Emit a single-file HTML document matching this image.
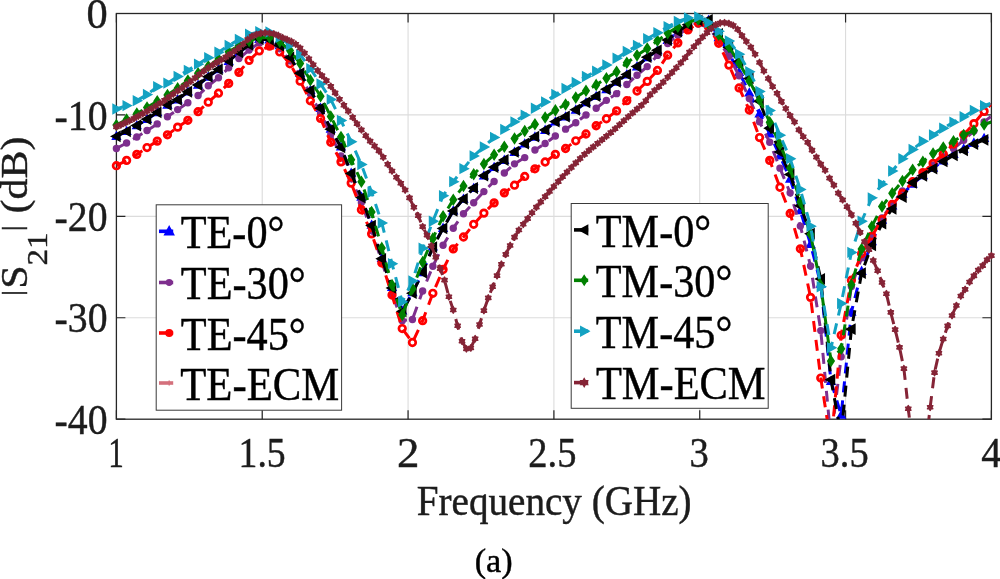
<!DOCTYPE html>
<html><head><meta charset="utf-8"><title>S21 plot</title><style>html,body{margin:0;padding:0;background:#fff;width:1000px;height:579px;overflow:hidden}svg{display:block}</style></head><body>
<svg width="1000" height="579" viewBox="0 0 1000 579" font-family="'Liberation Serif', 'Times New Roman', serif">
<rect width="1000" height="579" fill="#fff"/>
<defs><clipPath id="ax"><rect x="116.4" y="13.5" width="875.0" height="405.7"/></clipPath></defs>
<path d="M262.23 13.5V419.2M408.07 13.5V419.2M553.9 13.5V419.2M699.73 13.5V419.2M845.57 13.5V419.2M116.4 114.92H991.4M116.4 216.35H991.4M116.4 317.77H991.4" stroke="#262626" stroke-opacity="0.16" stroke-width="1.1" fill="none"/>
<path d="M116.4 419.2v-9M116.4 13.5v9M262.23 419.2v-9M262.23 13.5v9M408.07 419.2v-9M408.07 13.5v9M553.9 419.2v-9M553.9 13.5v9M699.73 419.2v-9M699.73 13.5v9M845.57 419.2v-9M845.57 13.5v9M991.4 419.2v-9M991.4 13.5v9M116.4 13.5h9M991.4 13.5h-9M116.4 114.92h9M991.4 114.92h-9M116.4 216.35h9M991.4 216.35h-9M116.4 317.77h9M991.4 317.77h-9M116.4 419.2h9M991.4 419.2h-9" stroke="#262626" stroke-width="1.2" fill="none"/>
<rect x="116.4" y="13.5" width="875.0" height="405.7" fill="none" stroke="#262626" stroke-width="1.3"/>
<path d="M116.4 136.35 L126.61 131.33 L136.82 125.6 L147.02 119.32 L157.23 112.58 L167.44 105.1 L177.65 99.77 L187.86 91.9 L198.07 85.04 L208.27 76.97 L218.48 69.53 L228.69 61.32 L238.9 52.54 L249.11 45.03 L259.32 39.24 L269.52 39.68 L279.73 45.47 L289.94 57.36 L300.15 73.21 L310.36 90.42 L320.57 108.18 L330.77 129 L340.98 146.9 L351.19 173.09 L361.4 197.07 L371.61 225.05 L381.82 258.18 L392.02 287.39 L402.23 310.89 L412.44 292.51 L422.65 272.47 L432.86 246.89 L443.07 228.21 L453.27 210.92 L463.48 199.1 L473.69 188.31 L483.9 175.9 L494.11 167.33 L504.32 160.19 L514.52 152.24 L524.73 143.88 L534.94 136.97 L545.15 130.19 L555.36 121.88 L565.57 116.8 L575.77 110.02 L585.98 102.65 L596.19 96.42 L606.4 89.62 L616.61 82.05 L626.82 74.71 L637.02 66.77 L647.23 57.47 L657.44 50.62 L667.65 40.36 L677.86 31.93 L688.07 25.07 L698.27 20.73 L708.48 20.3 L718.69 37.43 L728.9 53.52 L739.11 72.25 L749.32 92.89 L759.52 113.85 L769.73 133.84 L779.94 155.89 L790.15 178.96 L800.36 210.65 L810.57 244.23 L820.77 284.16 L830.98 381.39 L841.19 415.1 L851.4 312.12 L861.61 271.26 L871.82 241.5 L882.02 220.03 L892.23 205.7 L902.44 194.11 L912.65 184.05 L922.86 175.49 L933.07 168.01 L943.27 160.83 L953.48 154.29 L963.69 148.99 L973.9 143.02 L984.11 138.35 L991.4 135.83" fill="none" stroke="#0000ff" stroke-width="3.0" stroke-dasharray="11 8" clip-path="url(#ax)"/>
<g fill="#0000ff" stroke="#0000ff" stroke-width="1.5"><polygon points="116.4,132.25 120.3,139.3 112.51,139.3"/><polygon points="126.61,127.23 130.5,134.29 122.71,134.29"/><polygon points="136.82,121.5 140.71,128.55 132.92,128.55"/><polygon points="147.02,115.22 150.92,122.27 143.13,122.27"/><polygon points="157.23,108.48 161.13,115.54 153.34,115.54"/><polygon points="167.44,101 171.34,108.05 163.55,108.05"/><polygon points="177.65,95.67 181.54,102.72 173.75,102.72"/><polygon points="187.86,87.8 191.75,94.86 183.96,94.86"/><polygon points="198.07,80.94 201.96,87.99 194.17,87.99"/><polygon points="208.27,72.87 212.17,79.92 204.38,79.92"/><polygon points="218.48,65.43 222.38,72.48 214.59,72.48"/><polygon points="228.69,57.22 232.59,64.27 224.8,64.27"/><polygon points="238.9,48.44 242.79,55.49 235,55.49"/><polygon points="249.11,40.93 253,47.98 245.21,47.98"/><polygon points="259.32,35.14 263.21,42.19 255.42,42.19"/><polygon points="269.52,35.58 273.42,42.63 265.63,42.63"/><polygon points="279.73,41.37 283.63,48.42 275.84,48.42"/><polygon points="289.94,53.26 293.84,60.31 286.05,60.31"/><polygon points="300.15,69.11 304.04,76.17 296.25,76.17"/><polygon points="310.36,86.32 314.25,93.37 306.46,93.37"/><polygon points="320.57,104.08 324.46,111.14 316.67,111.14"/><polygon points="330.77,124.9 334.67,131.95 326.88,131.95"/><polygon points="340.98,142.8 344.88,149.86 337.09,149.86"/><polygon points="351.19,168.99 355.09,176.04 347.3,176.04"/><polygon points="361.4,192.97 365.29,200.02 357.5,200.02"/><polygon points="371.61,220.95 375.5,228 367.71,228"/><polygon points="381.82,254.08 385.71,261.13 377.92,261.13"/><polygon points="392.02,283.29 395.92,290.34 388.13,290.34"/><polygon points="402.23,306.79 406.13,313.84 398.34,313.84"/><polygon points="412.44,288.41 416.34,295.46 408.55,295.46"/><polygon points="422.65,268.37 426.54,275.42 418.75,275.42"/><polygon points="432.86,242.79 436.75,249.84 428.96,249.84"/><polygon points="443.07,224.11 446.96,231.16 439.17,231.16"/><polygon points="453.27,206.82 457.17,213.87 449.38,213.87"/><polygon points="463.48,195 467.38,202.05 459.59,202.05"/><polygon points="473.69,184.21 477.59,191.26 469.8,191.26"/><polygon points="483.9,171.8 487.79,178.85 480,178.85"/><polygon points="494.11,163.23 498,170.29 490.21,170.29"/><polygon points="504.32,156.09 508.21,163.14 500.42,163.14"/><polygon points="514.52,148.14 518.42,155.19 510.63,155.19"/><polygon points="524.73,139.78 528.63,146.84 520.84,146.84"/><polygon points="534.94,132.87 538.84,139.92 531.05,139.92"/><polygon points="545.15,126.09 549.04,133.14 541.25,133.14"/><polygon points="555.36,117.78 559.25,124.83 551.46,124.83"/><polygon points="565.57,112.7 569.46,119.76 561.67,119.76"/><polygon points="575.77,105.92 579.67,112.97 571.88,112.97"/><polygon points="585.98,98.55 589.88,105.6 582.09,105.6"/><polygon points="596.19,92.32 600.09,99.37 592.3,99.37"/><polygon points="606.4,85.52 610.29,92.57 602.5,92.57"/><polygon points="616.61,77.95 620.5,85 612.71,85"/><polygon points="626.82,70.61 630.71,77.67 622.92,77.67"/><polygon points="637.02,62.67 640.92,69.72 633.13,69.72"/><polygon points="647.23,53.37 651.13,60.42 643.34,60.42"/><polygon points="657.44,46.52 661.34,53.57 653.55,53.57"/><polygon points="667.65,36.26 671.54,43.32 663.75,43.32"/><polygon points="677.86,27.83 681.75,34.88 673.96,34.88"/><polygon points="688.07,20.97 691.96,28.02 684.17,28.02"/><polygon points="698.27,16.63 702.17,23.68 694.38,23.68"/><polygon points="708.48,16.2 712.38,23.25 704.59,23.25"/><polygon points="718.69,33.33 722.59,40.38 714.8,40.38"/><polygon points="728.9,49.42 732.79,56.47 725,56.47"/><polygon points="739.11,68.15 743,75.2 735.21,75.2"/><polygon points="749.32,88.79 753.21,95.85 745.42,95.85"/><polygon points="759.52,109.75 763.42,116.81 755.63,116.81"/><polygon points="769.73,129.74 773.63,136.79 765.84,136.79"/><polygon points="779.94,151.79 783.84,158.84 776.05,158.84"/><polygon points="790.15,174.86 794.04,181.91 786.25,181.91"/><polygon points="800.36,206.55 804.25,213.6 796.46,213.6"/><polygon points="810.57,240.13 814.46,247.18 806.67,247.18"/><polygon points="820.77,280.06 824.67,287.12 816.88,287.12"/><polygon points="830.98,377.29 834.88,384.34 827.09,384.34"/><polygon points="841.19,411 845.09,418.05 837.3,418.05"/><polygon points="851.4,308.02 855.29,315.08 847.5,315.08"/><polygon points="861.61,267.16 865.5,274.21 857.71,274.21"/><polygon points="871.82,237.4 875.71,244.45 867.92,244.45"/><polygon points="882.02,215.93 885.92,222.98 878.13,222.98"/><polygon points="892.23,201.6 896.13,208.65 888.34,208.65"/><polygon points="902.44,190.01 906.34,197.06 898.55,197.06"/><polygon points="912.65,179.95 916.54,187 908.75,187"/><polygon points="922.86,171.39 926.75,178.44 918.96,178.44"/><polygon points="933.07,163.91 936.96,170.96 929.17,170.96"/><polygon points="943.27,156.73 947.17,163.78 939.38,163.78"/><polygon points="953.48,150.19 957.38,157.24 949.59,157.24"/><polygon points="963.69,144.89 967.59,151.94 959.8,151.94"/><polygon points="973.9,138.92 977.79,145.97 970,145.97"/><polygon points="984.11,134.25 988,141.3 980.21,141.3"/></g>
<path d="M116.4 148.45 L126.61 142.93 L136.82 136.93 L147.02 130.56 L157.23 123.91 L167.44 116.69 L177.65 109.59 L187.86 102.82 L198.07 95.53 L208.27 85.78 L218.48 77.77 L228.69 67.85 L238.9 58.56 L249.11 50.08 L259.32 42.91 L269.52 42.54 L279.73 48.77 L289.94 60.92 L300.15 76.24 L310.36 93.64 L320.57 113.13 L330.77 134.48 L340.98 155.91 L351.19 178.68 L361.4 202.53 L371.61 230.64 L381.82 261.54 L392.02 294 L402.23 320.67 L412.44 319.45 L422.65 291.02 L432.86 266.32 L443.07 245.32 L453.27 228.18 L463.48 213.68 L473.69 202.71 L483.9 191.6 L494.11 181.45 L504.32 172.97 L514.52 163.85 L524.73 157.61 L534.94 149.94 L545.15 143.57 L555.36 135.98 L565.57 129.17 L575.77 122.72 L585.98 114.98 L596.19 108.26 L606.4 100.33 L616.61 93.64 L626.82 84.53 L637.02 75.25 L647.23 66.58 L657.44 55.41 L667.65 43.5 L677.86 35.23 L688.07 27.97 L698.27 24 L708.48 27.27 L718.69 40.96 L728.9 56.2 L739.11 75.8 L749.32 98.59 L759.52 121.81 L769.73 142.25 L779.94 168.14 L790.15 192.86 L800.36 226.12 L810.57 265.95 L820.77 330.58 L830.98 440 L841.19 356.8 L851.4 286.5 L861.61 257.87 L871.82 235.4 L882.02 217.92 L892.23 203.95 L902.44 190.98 L912.65 181.44 L922.86 173.31 L933.07 165.13 L943.27 156.78 L953.48 148.61 L963.69 140.26 L973.9 131.09 L984.11 121.91 L991.4 116.08" fill="none" stroke="#7e2f8e" stroke-width="3.0" stroke-dasharray="11 8" clip-path="url(#ax)"/>
<g fill="#7e2f8e" stroke="#7e2f8e" stroke-width="2.2"><circle cx="116.4" cy="148.45" r="2.6"/><circle cx="126.61" cy="142.93" r="2.6"/><circle cx="136.82" cy="136.93" r="2.6"/><circle cx="147.02" cy="130.56" r="2.6"/><circle cx="157.23" cy="123.91" r="2.6"/><circle cx="167.44" cy="116.69" r="2.6"/><circle cx="177.65" cy="109.59" r="2.6"/><circle cx="187.86" cy="102.82" r="2.6"/><circle cx="198.07" cy="95.53" r="2.6"/><circle cx="208.27" cy="85.78" r="2.6"/><circle cx="218.48" cy="77.77" r="2.6"/><circle cx="228.69" cy="67.85" r="2.6"/><circle cx="238.9" cy="58.56" r="2.6"/><circle cx="249.11" cy="50.08" r="2.6"/><circle cx="259.32" cy="42.91" r="2.6"/><circle cx="269.52" cy="42.54" r="2.6"/><circle cx="279.73" cy="48.77" r="2.6"/><circle cx="289.94" cy="60.92" r="2.6"/><circle cx="300.15" cy="76.24" r="2.6"/><circle cx="310.36" cy="93.64" r="2.6"/><circle cx="320.57" cy="113.13" r="2.6"/><circle cx="330.77" cy="134.48" r="2.6"/><circle cx="340.98" cy="155.91" r="2.6"/><circle cx="351.19" cy="178.68" r="2.6"/><circle cx="361.4" cy="202.53" r="2.6"/><circle cx="371.61" cy="230.64" r="2.6"/><circle cx="381.82" cy="261.54" r="2.6"/><circle cx="392.02" cy="294" r="2.6"/><circle cx="402.23" cy="320.67" r="2.6"/><circle cx="412.44" cy="319.45" r="2.6"/><circle cx="422.65" cy="291.02" r="2.6"/><circle cx="432.86" cy="266.32" r="2.6"/><circle cx="443.07" cy="245.32" r="2.6"/><circle cx="453.27" cy="228.18" r="2.6"/><circle cx="463.48" cy="213.68" r="2.6"/><circle cx="473.69" cy="202.71" r="2.6"/><circle cx="483.9" cy="191.6" r="2.6"/><circle cx="494.11" cy="181.45" r="2.6"/><circle cx="504.32" cy="172.97" r="2.6"/><circle cx="514.52" cy="163.85" r="2.6"/><circle cx="524.73" cy="157.61" r="2.6"/><circle cx="534.94" cy="149.94" r="2.6"/><circle cx="545.15" cy="143.57" r="2.6"/><circle cx="555.36" cy="135.98" r="2.6"/><circle cx="565.57" cy="129.17" r="2.6"/><circle cx="575.77" cy="122.72" r="2.6"/><circle cx="585.98" cy="114.98" r="2.6"/><circle cx="596.19" cy="108.26" r="2.6"/><circle cx="606.4" cy="100.33" r="2.6"/><circle cx="616.61" cy="93.64" r="2.6"/><circle cx="626.82" cy="84.53" r="2.6"/><circle cx="637.02" cy="75.25" r="2.6"/><circle cx="647.23" cy="66.58" r="2.6"/><circle cx="657.44" cy="55.41" r="2.6"/><circle cx="667.65" cy="43.5" r="2.6"/><circle cx="677.86" cy="35.23" r="2.6"/><circle cx="688.07" cy="27.97" r="2.6"/><circle cx="698.27" cy="24" r="2.6"/><circle cx="708.48" cy="27.27" r="2.6"/><circle cx="718.69" cy="40.96" r="2.6"/><circle cx="728.9" cy="56.2" r="2.6"/><circle cx="739.11" cy="75.8" r="2.6"/><circle cx="749.32" cy="98.59" r="2.6"/><circle cx="759.52" cy="121.81" r="2.6"/><circle cx="769.73" cy="142.25" r="2.6"/><circle cx="779.94" cy="168.14" r="2.6"/><circle cx="790.15" cy="192.86" r="2.6"/><circle cx="800.36" cy="226.12" r="2.6"/><circle cx="810.57" cy="265.95" r="2.6"/><circle cx="820.77" cy="330.58" r="2.6"/><circle cx="841.19" cy="356.8" r="2.6"/><circle cx="851.4" cy="286.5" r="2.6"/><circle cx="861.61" cy="257.87" r="2.6"/><circle cx="871.82" cy="235.4" r="2.6"/><circle cx="882.02" cy="217.92" r="2.6"/><circle cx="892.23" cy="203.95" r="2.6"/><circle cx="902.44" cy="190.98" r="2.6"/><circle cx="912.65" cy="181.44" r="2.6"/><circle cx="922.86" cy="173.31" r="2.6"/><circle cx="933.07" cy="165.13" r="2.6"/><circle cx="943.27" cy="156.78" r="2.6"/><circle cx="953.48" cy="148.61" r="2.6"/><circle cx="963.69" cy="140.26" r="2.6"/><circle cx="973.9" cy="131.09" r="2.6"/><circle cx="984.11" cy="121.91" r="2.6"/></g>
<path d="M116.4 165.7 L126.61 160.39 L136.82 154.39 L147.02 147.55 L157.23 141.11 L167.44 134.81 L177.65 127.16 L187.86 120.33 L198.07 111.68 L208.27 102.15 L218.48 93.22 L228.69 83.41 L238.9 72.34 L249.11 60.37 L259.32 50.86 L269.52 46.1 L279.73 51.94 L289.94 63.83 L300.15 81.16 L310.36 100.8 L320.57 118.45 L330.77 142.29 L340.98 161.87 L351.19 183.11 L361.4 209.74 L371.61 233.85 L381.82 262.94 L392.02 295.08 L402.23 328.57 L412.44 342.49 L422.65 320.71 L432.86 293.3 L443.07 269.48 L453.27 248.9 L463.48 236.98 L473.69 224.31 L483.9 213.1 L494.11 202.89 L504.32 192.85 L514.52 185.22 L524.73 176.45 L534.94 168.83 L545.15 161.98 L555.36 154.37 L565.57 148.49 L575.77 140.82 L585.98 133.99 L596.19 125.74 L606.4 118.73 L616.61 110.88 L626.82 100.69 L637.02 90.99 L647.23 81.37 L657.44 70.45 L667.65 55.2 L677.86 42.85 L688.07 29.84 L698.27 23 L708.48 27.02 L718.69 43.24 L728.9 65.11 L739.11 87.96 L749.32 110.04 L759.52 137.57 L769.73 160.41 L779.94 187.27 L790.15 213.46 L800.36 248.8 L810.57 297.35 L820.77 378.04 L830.98 443.99 L841.19 335.32 L851.4 280.24 L861.61 253.58 L871.82 236.12 L882.02 219.54 L892.23 204.41 L902.44 193.34 L912.65 181.75 L922.86 172.58 L933.07 163.36 L943.27 154.13 L953.48 143.98 L963.69 134.81 L973.9 123.66 L984.11 111.35 L991.4 104.09" fill="none" stroke="#ff0000" stroke-width="3.0" stroke-dasharray="11 8" clip-path="url(#ax)"/>
<g fill="none" stroke="#ff0000" stroke-width="2.7"><circle cx="116.4" cy="165.7" r="3.3"/><circle cx="126.61" cy="160.39" r="3.3"/><circle cx="136.82" cy="154.39" r="3.3"/><circle cx="147.02" cy="147.55" r="3.3"/><circle cx="157.23" cy="141.11" r="3.3"/><circle cx="167.44" cy="134.81" r="3.3"/><circle cx="177.65" cy="127.16" r="3.3"/><circle cx="187.86" cy="120.33" r="3.3"/><circle cx="198.07" cy="111.68" r="3.3"/><circle cx="208.27" cy="102.15" r="3.3"/><circle cx="218.48" cy="93.22" r="3.3"/><circle cx="228.69" cy="83.41" r="3.3"/><circle cx="238.9" cy="72.34" r="3.3"/><circle cx="249.11" cy="60.37" r="3.3"/><circle cx="259.32" cy="50.86" r="3.3"/><circle cx="269.52" cy="46.1" r="3.3"/><circle cx="279.73" cy="51.94" r="3.3"/><circle cx="289.94" cy="63.83" r="3.3"/><circle cx="300.15" cy="81.16" r="3.3"/><circle cx="310.36" cy="100.8" r="3.3"/><circle cx="320.57" cy="118.45" r="3.3"/><circle cx="330.77" cy="142.29" r="3.3"/><circle cx="340.98" cy="161.87" r="3.3"/><circle cx="351.19" cy="183.11" r="3.3"/><circle cx="361.4" cy="209.74" r="3.3"/><circle cx="371.61" cy="233.85" r="3.3"/><circle cx="381.82" cy="262.94" r="3.3"/><circle cx="392.02" cy="295.08" r="3.3"/><circle cx="402.23" cy="328.57" r="3.3"/><circle cx="412.44" cy="342.49" r="3.3"/><circle cx="422.65" cy="320.71" r="3.3"/><circle cx="432.86" cy="293.3" r="3.3"/><circle cx="443.07" cy="269.48" r="3.3"/><circle cx="453.27" cy="248.9" r="3.3"/><circle cx="463.48" cy="236.98" r="3.3"/><circle cx="473.69" cy="224.31" r="3.3"/><circle cx="483.9" cy="213.1" r="3.3"/><circle cx="494.11" cy="202.89" r="3.3"/><circle cx="504.32" cy="192.85" r="3.3"/><circle cx="514.52" cy="185.22" r="3.3"/><circle cx="524.73" cy="176.45" r="3.3"/><circle cx="534.94" cy="168.83" r="3.3"/><circle cx="545.15" cy="161.98" r="3.3"/><circle cx="555.36" cy="154.37" r="3.3"/><circle cx="565.57" cy="148.49" r="3.3"/><circle cx="575.77" cy="140.82" r="3.3"/><circle cx="585.98" cy="133.99" r="3.3"/><circle cx="596.19" cy="125.74" r="3.3"/><circle cx="606.4" cy="118.73" r="3.3"/><circle cx="616.61" cy="110.88" r="3.3"/><circle cx="626.82" cy="100.69" r="3.3"/><circle cx="637.02" cy="90.99" r="3.3"/><circle cx="647.23" cy="81.37" r="3.3"/><circle cx="657.44" cy="70.45" r="3.3"/><circle cx="667.65" cy="55.2" r="3.3"/><circle cx="677.86" cy="42.85" r="3.3"/><circle cx="688.07" cy="29.84" r="3.3"/><circle cx="698.27" cy="23" r="3.3"/><circle cx="708.48" cy="27.02" r="3.3"/><circle cx="718.69" cy="43.24" r="3.3"/><circle cx="728.9" cy="65.11" r="3.3"/><circle cx="739.11" cy="87.96" r="3.3"/><circle cx="749.32" cy="110.04" r="3.3"/><circle cx="759.52" cy="137.57" r="3.3"/><circle cx="769.73" cy="160.41" r="3.3"/><circle cx="779.94" cy="187.27" r="3.3"/><circle cx="790.15" cy="213.46" r="3.3"/><circle cx="800.36" cy="248.8" r="3.3"/><circle cx="810.57" cy="297.35" r="3.3"/><circle cx="820.77" cy="378.04" r="3.3"/><circle cx="841.19" cy="335.32" r="3.3"/><circle cx="851.4" cy="280.24" r="3.3"/><circle cx="861.61" cy="253.58" r="3.3"/><circle cx="871.82" cy="236.12" r="3.3"/><circle cx="882.02" cy="219.54" r="3.3"/><circle cx="892.23" cy="204.41" r="3.3"/><circle cx="902.44" cy="193.34" r="3.3"/><circle cx="912.65" cy="181.75" r="3.3"/><circle cx="922.86" cy="172.58" r="3.3"/><circle cx="933.07" cy="163.36" r="3.3"/><circle cx="943.27" cy="154.13" r="3.3"/><circle cx="953.48" cy="143.98" r="3.3"/><circle cx="963.69" cy="134.81" r="3.3"/><circle cx="973.9" cy="123.66" r="3.3"/><circle cx="984.11" cy="111.35" r="3.3"/></g>
<path d="M116.4 136.35 L126.61 131.3 L136.82 125.52 L147.02 119.18 L157.23 112.37 L167.44 104.81 L177.65 99.67 L187.86 91.71 L198.07 84.93 L208.27 76.67 L218.48 69.43 L228.69 61.02 L238.9 52.34 L249.11 44.93 L259.32 39.14 L269.52 39.66 L279.73 45.56 L289.94 57.36 L300.15 73.21 L310.36 90.42 L320.57 108.29 L330.77 129.2 L340.98 147.21 L351.19 173.41 L361.4 197.58 L371.61 225.55 L381.82 258.82 L392.02 287.95 L402.23 311.34 L412.44 293.19 L422.65 272.56 L432.86 247.09 L443.07 228.41 L453.27 210.92 L463.48 198.99 L473.69 188.01 L483.9 175.7 L494.11 167.14 L504.32 159.99 L514.52 151.94 L524.73 143.58 L534.94 136.67 L545.15 129.89 L555.36 121.58 L565.57 116.5 L575.77 109.72 L585.98 102.35 L596.19 96.12 L606.4 89.32 L616.61 81.75 L626.82 74.41 L637.02 66.47 L647.23 57.17 L657.44 50.32 L667.65 40.06 L677.86 31.63 L688.07 24.77 L698.27 20.44 L708.48 19.8 L718.69 33.97 L728.9 47.54 L739.11 61.57 L749.32 78.41 L759.52 101.28 L769.73 128.24 L779.94 152.02 L790.15 174.44 L800.36 205.76 L810.57 233.74 L820.77 278.91 L830.98 379.7 L841.19 434.95 L851.4 329.2 L861.61 273.14 L871.82 245.34 L882.02 223.62 L892.23 208.83 L902.44 196.96 L912.65 182.79 L922.86 175.75 L933.07 168.61 L943.27 161.45 L953.48 155.36 L963.69 150.21 L973.9 144.1 L984.11 139.88 L991.4 138.02" fill="none" stroke="#000000" stroke-width="3.0" stroke-dasharray="11 8" clip-path="url(#ax)"/>
<g fill="#000000" stroke="#000000" stroke-width="1.6"><polygon points="111.6,136.35 119.86,131.79 119.86,140.91"/><polygon points="121.81,131.3 130.06,126.74 130.06,135.86"/><polygon points="132.02,125.52 140.27,120.96 140.27,130.08"/><polygon points="142.22,119.18 150.48,114.62 150.48,123.74"/><polygon points="152.43,112.37 160.69,107.81 160.69,116.93"/><polygon points="162.64,104.81 170.9,100.25 170.9,109.37"/><polygon points="172.85,99.67 181.11,95.11 181.11,104.23"/><polygon points="183.06,91.71 191.31,87.15 191.31,96.27"/><polygon points="193.27,84.93 201.52,80.37 201.52,89.49"/><polygon points="203.47,76.67 211.73,72.11 211.73,81.23"/><polygon points="213.68,69.43 221.94,64.87 221.94,73.99"/><polygon points="223.89,61.02 232.15,56.46 232.15,65.58"/><polygon points="234.1,52.34 242.36,47.78 242.36,56.9"/><polygon points="244.31,44.93 252.56,40.37 252.56,49.49"/><polygon points="254.52,39.14 262.77,34.58 262.77,43.7"/><polygon points="264.72,39.66 272.98,35.1 272.98,44.22"/><polygon points="274.93,45.56 283.19,41 283.19,50.12"/><polygon points="285.14,57.36 293.4,52.8 293.4,61.92"/><polygon points="295.35,73.21 303.61,68.65 303.61,77.77"/><polygon points="305.56,90.42 313.81,85.86 313.81,94.98"/><polygon points="315.77,108.29 324.02,103.73 324.02,112.85"/><polygon points="325.97,129.2 334.23,124.64 334.23,133.76"/><polygon points="336.18,147.21 344.44,142.65 344.44,151.77"/><polygon points="346.39,173.41 354.65,168.85 354.65,177.97"/><polygon points="356.6,197.58 364.86,193.02 364.86,202.14"/><polygon points="366.81,225.55 375.06,220.99 375.06,230.11"/><polygon points="377.02,258.82 385.27,254.26 385.27,263.38"/><polygon points="387.22,287.95 395.48,283.39 395.48,292.51"/><polygon points="397.43,311.34 405.69,306.78 405.69,315.9"/><polygon points="407.64,293.19 415.9,288.63 415.9,297.75"/><polygon points="417.85,272.56 426.11,268 426.11,277.12"/><polygon points="428.06,247.09 436.31,242.53 436.31,251.65"/><polygon points="438.27,228.41 446.52,223.85 446.52,232.97"/><polygon points="448.47,210.92 456.73,206.36 456.73,215.48"/><polygon points="458.68,198.99 466.94,194.43 466.94,203.55"/><polygon points="468.89,188.01 477.15,183.45 477.15,192.57"/><polygon points="479.1,175.7 487.36,171.14 487.36,180.26"/><polygon points="489.31,167.14 497.56,162.58 497.56,171.7"/><polygon points="499.52,159.99 507.77,155.43 507.77,164.55"/><polygon points="509.72,151.94 517.98,147.38 517.98,156.5"/><polygon points="519.93,143.58 528.19,139.02 528.19,148.14"/><polygon points="530.14,136.67 538.4,132.11 538.4,141.23"/><polygon points="540.35,129.89 548.61,125.33 548.61,134.45"/><polygon points="550.56,121.58 558.81,117.02 558.81,126.14"/><polygon points="560.77,116.5 569.02,111.94 569.02,121.06"/><polygon points="570.97,109.72 579.23,105.16 579.23,114.28"/><polygon points="581.18,102.35 589.44,97.79 589.44,106.91"/><polygon points="591.39,96.12 599.65,91.56 599.65,100.68"/><polygon points="601.6,89.32 609.86,84.76 609.86,93.88"/><polygon points="611.81,81.75 620.06,77.19 620.06,86.31"/><polygon points="622.02,74.41 630.27,69.85 630.27,78.97"/><polygon points="632.22,66.47 640.48,61.91 640.48,71.03"/><polygon points="642.43,57.17 650.69,52.61 650.69,61.73"/><polygon points="652.64,50.32 660.9,45.76 660.9,54.88"/><polygon points="662.85,40.06 671.11,35.5 671.11,44.62"/><polygon points="673.06,31.63 681.31,27.07 681.31,36.19"/><polygon points="683.27,24.77 691.52,20.21 691.52,29.33"/><polygon points="693.47,20.44 701.73,15.88 701.73,25"/><polygon points="703.68,19.8 711.94,15.24 711.94,24.36"/><polygon points="713.89,33.97 722.15,29.41 722.15,38.53"/><polygon points="724.1,47.54 732.36,42.98 732.36,52.1"/><polygon points="734.31,61.57 742.56,57.01 742.56,66.13"/><polygon points="744.52,78.41 752.77,73.85 752.77,82.97"/><polygon points="754.72,101.28 762.98,96.72 762.98,105.84"/><polygon points="764.93,128.24 773.19,123.68 773.19,132.8"/><polygon points="775.14,152.02 783.4,147.46 783.4,156.58"/><polygon points="785.35,174.44 793.61,169.88 793.61,179"/><polygon points="795.56,205.76 803.81,201.2 803.81,210.32"/><polygon points="805.77,233.74 814.02,229.18 814.02,238.3"/><polygon points="815.97,278.91 824.23,274.35 824.23,283.47"/><polygon points="826.18,379.7 834.44,375.14 834.44,384.26"/><polygon points="846.6,329.2 854.86,324.64 854.86,333.76"/><polygon points="856.81,273.14 865.06,268.58 865.06,277.7"/><polygon points="867.02,245.34 875.27,240.78 875.27,249.9"/><polygon points="877.22,223.62 885.48,219.06 885.48,228.18"/><polygon points="887.43,208.83 895.69,204.27 895.69,213.39"/><polygon points="897.64,196.96 905.9,192.4 905.9,201.52"/><polygon points="907.85,182.79 916.11,178.23 916.11,187.35"/><polygon points="918.06,175.75 926.31,171.19 926.31,180.31"/><polygon points="928.27,168.61 936.52,164.05 936.52,173.17"/><polygon points="938.47,161.45 946.73,156.89 946.73,166.01"/><polygon points="948.68,155.36 956.94,150.8 956.94,159.92"/><polygon points="958.89,150.21 967.15,145.65 967.15,154.77"/><polygon points="969.1,144.1 977.36,139.54 977.36,148.66"/><polygon points="979.31,139.88 987.56,135.32 987.56,144.44"/></g>
<path d="M116.4 125.05 L126.61 119.46 L136.82 113.62 L147.02 107.58 L157.23 101.36 L167.44 94.95 L177.65 88.15 L187.86 80.57 L198.07 73.36 L208.27 66.31 L218.48 59.07 L228.69 51.84 L238.9 45.59 L249.11 40.94 L259.32 37.8 L269.52 37.3 L279.73 41.84 L289.94 50.55 L300.15 63.5 L310.36 80.21 L320.57 96.24 L330.77 116.45 L340.98 136.9 L351.19 159.8 L361.4 181.75 L371.61 211.93 L381.82 247.89 L392.02 285.06 L402.23 314.9 L412.44 288.85 L422.65 262.13 L432.86 238.49 L443.07 216.34 L453.27 199.7 L463.48 186.07 L473.69 174.27 L483.9 164.02 L494.11 154.73 L504.32 146.67 L514.52 138.45 L524.73 131.01 L534.94 124.21 L545.15 117.47 L555.36 110.37 L565.57 104.4 L575.77 97.62 L585.98 90.77 L596.19 84.88 L606.4 78.15 L616.61 71.75 L626.82 62.85 L637.02 55.37 L647.23 48.59 L657.44 40.84 L667.65 33.2 L677.86 26.84 L688.07 22.14 L698.27 19.5 L708.48 24.08 L718.69 34.65 L728.9 46.92 L739.11 62.94 L749.32 80.92 L759.52 99.85 L769.73 122.33 L779.94 144.54 L790.15 168.34 L800.36 201.93 L810.57 234.59 L820.77 285.6 L830.98 360.88 L841.19 348.65 L851.4 284.71 L861.61 248.95 L871.82 226.48 L882.02 206.45 L892.23 193.21 L902.44 180.96 L912.65 169.8 L922.86 161.71 L933.07 153.52 L943.27 147.45 L953.48 141.27 L963.69 135.11 L973.9 130.6 L984.11 124.46 L991.4 122.02" fill="none" stroke="#008000" stroke-width="3.0" stroke-dasharray="11 8" clip-path="url(#ax)"/>
<g fill="#008000" stroke="#008000" stroke-width="1.6"><polygon points="116.4,120.24 119.55,125.05 116.4,129.86 113.26,125.05"/><polygon points="126.61,114.65 129.75,119.46 126.61,124.27 123.46,119.46"/><polygon points="136.82,108.81 139.96,113.62 136.82,118.43 133.67,113.62"/><polygon points="147.02,102.77 150.17,107.58 147.02,112.39 143.88,107.58"/><polygon points="157.23,96.55 160.38,101.36 157.23,106.17 154.09,101.36"/><polygon points="167.44,90.14 170.59,94.95 167.44,99.76 164.3,94.95"/><polygon points="177.65,83.34 180.79,88.15 177.65,92.96 174.5,88.15"/><polygon points="187.86,75.76 191,80.57 187.86,85.38 184.71,80.57"/><polygon points="198.07,68.55 201.21,73.36 198.07,78.17 194.92,73.36"/><polygon points="208.27,61.5 211.42,66.31 208.27,71.12 205.13,66.31"/><polygon points="218.48,54.26 221.63,59.07 218.48,63.88 215.34,59.07"/><polygon points="228.69,47.03 231.84,51.84 228.69,56.65 225.55,51.84"/><polygon points="238.9,40.78 242.04,45.59 238.9,50.4 235.75,45.59"/><polygon points="249.11,36.13 252.25,40.94 249.11,45.75 245.96,40.94"/><polygon points="259.32,32.99 262.46,37.8 259.32,42.61 256.17,37.8"/><polygon points="269.52,32.49 272.67,37.3 269.52,42.11 266.38,37.3"/><polygon points="279.73,37.03 282.88,41.84 279.73,46.65 276.59,41.84"/><polygon points="289.94,45.74 293.09,50.55 289.94,55.36 286.8,50.55"/><polygon points="300.15,58.69 303.29,63.5 300.15,68.31 297,63.5"/><polygon points="310.36,75.4 313.5,80.21 310.36,85.02 307.21,80.21"/><polygon points="320.57,91.43 323.71,96.24 320.57,101.05 317.42,96.24"/><polygon points="330.77,111.64 333.92,116.45 330.77,121.26 327.63,116.45"/><polygon points="340.98,132.09 344.13,136.9 340.98,141.71 337.84,136.9"/><polygon points="351.19,154.99 354.34,159.8 351.19,164.61 348.05,159.8"/><polygon points="361.4,176.94 364.54,181.75 361.4,186.56 358.25,181.75"/><polygon points="371.61,207.12 374.75,211.93 371.61,216.74 368.46,211.93"/><polygon points="381.82,243.08 384.96,247.89 381.82,252.7 378.67,247.89"/><polygon points="392.02,280.25 395.17,285.06 392.02,289.87 388.88,285.06"/><polygon points="402.23,310.09 405.38,314.9 402.23,319.71 399.09,314.9"/><polygon points="412.44,284.04 415.59,288.85 412.44,293.66 409.3,288.85"/><polygon points="422.65,257.32 425.79,262.13 422.65,266.94 419.5,262.13"/><polygon points="432.86,233.68 436,238.49 432.86,243.3 429.71,238.49"/><polygon points="443.07,211.53 446.21,216.34 443.07,221.15 439.92,216.34"/><polygon points="453.27,194.89 456.42,199.7 453.27,204.51 450.13,199.7"/><polygon points="463.48,181.26 466.63,186.07 463.48,190.88 460.34,186.07"/><polygon points="473.69,169.46 476.84,174.27 473.69,179.08 470.55,174.27"/><polygon points="483.9,159.21 487.04,164.02 483.9,168.83 480.75,164.02"/><polygon points="494.11,149.92 497.25,154.73 494.11,159.54 490.96,154.73"/><polygon points="504.32,141.86 507.46,146.67 504.32,151.48 501.17,146.67"/><polygon points="514.52,133.64 517.67,138.45 514.52,143.26 511.38,138.45"/><polygon points="524.73,126.2 527.88,131.01 524.73,135.82 521.59,131.01"/><polygon points="534.94,119.4 538.09,124.21 534.94,129.02 531.8,124.21"/><polygon points="545.15,112.66 548.29,117.47 545.15,122.28 542,117.47"/><polygon points="555.36,105.56 558.5,110.37 555.36,115.18 552.21,110.37"/><polygon points="565.57,99.59 568.71,104.4 565.57,109.21 562.42,104.4"/><polygon points="575.77,92.81 578.92,97.62 575.77,102.43 572.63,97.62"/><polygon points="585.98,85.96 589.13,90.77 585.98,95.58 582.84,90.77"/><polygon points="596.19,80.07 599.34,84.88 596.19,89.69 593.05,84.88"/><polygon points="606.4,73.34 609.54,78.15 606.4,82.96 603.25,78.15"/><polygon points="616.61,66.94 619.75,71.75 616.61,76.56 613.46,71.75"/><polygon points="626.82,58.04 629.96,62.85 626.82,67.66 623.67,62.85"/><polygon points="637.02,50.56 640.17,55.37 637.02,60.18 633.88,55.37"/><polygon points="647.23,43.78 650.38,48.59 647.23,53.4 644.09,48.59"/><polygon points="657.44,36.03 660.59,40.84 657.44,45.65 654.3,40.84"/><polygon points="667.65,28.39 670.79,33.2 667.65,38.01 664.5,33.2"/><polygon points="677.86,22.03 681,26.84 677.86,31.65 674.71,26.84"/><polygon points="688.07,17.33 691.21,22.14 688.07,26.95 684.92,22.14"/><polygon points="698.27,14.69 701.42,19.5 698.27,24.31 695.13,19.5"/><polygon points="708.48,19.27 711.63,24.08 708.48,28.89 705.34,24.08"/><polygon points="718.69,29.84 721.84,34.65 718.69,39.46 715.55,34.65"/><polygon points="728.9,42.11 732.04,46.92 728.9,51.73 725.75,46.92"/><polygon points="739.11,58.13 742.25,62.94 739.11,67.75 735.96,62.94"/><polygon points="749.32,76.11 752.46,80.92 749.32,85.73 746.17,80.92"/><polygon points="759.52,95.04 762.67,99.85 759.52,104.66 756.38,99.85"/><polygon points="769.73,117.52 772.88,122.33 769.73,127.14 766.59,122.33"/><polygon points="779.94,139.73 783.09,144.54 779.94,149.35 776.8,144.54"/><polygon points="790.15,163.53 793.29,168.34 790.15,173.15 787,168.34"/><polygon points="800.36,197.12 803.5,201.93 800.36,206.74 797.21,201.93"/><polygon points="810.57,229.78 813.71,234.59 810.57,239.4 807.42,234.59"/><polygon points="820.77,280.79 823.92,285.6 820.77,290.41 817.63,285.6"/><polygon points="830.98,356.07 834.13,360.88 830.98,365.69 827.84,360.88"/><polygon points="841.19,343.84 844.34,348.65 841.19,353.46 838.05,348.65"/><polygon points="851.4,279.9 854.54,284.71 851.4,289.52 848.25,284.71"/><polygon points="861.61,244.14 864.75,248.95 861.61,253.76 858.46,248.95"/><polygon points="871.82,221.67 874.96,226.48 871.82,231.29 868.67,226.48"/><polygon points="882.02,201.64 885.17,206.45 882.02,211.26 878.88,206.45"/><polygon points="892.23,188.4 895.38,193.21 892.23,198.02 889.09,193.21"/><polygon points="902.44,176.15 905.59,180.96 902.44,185.77 899.3,180.96"/><polygon points="912.65,164.99 915.79,169.8 912.65,174.61 909.5,169.8"/><polygon points="922.86,156.9 926,161.71 922.86,166.52 919.71,161.71"/><polygon points="933.07,148.71 936.21,153.52 933.07,158.33 929.92,153.52"/><polygon points="943.27,142.64 946.42,147.45 943.27,152.26 940.13,147.45"/><polygon points="953.48,136.46 956.63,141.27 953.48,146.08 950.34,141.27"/><polygon points="963.69,130.3 966.84,135.11 963.69,139.92 960.55,135.11"/><polygon points="973.9,125.79 977.04,130.6 973.9,135.41 970.75,130.6"/><polygon points="984.11,119.65 987.25,124.46 984.11,129.27 980.96,124.46"/></g>
<path d="M116.4 108.92 L126.61 105.62 L136.82 100.64 L147.02 94.58 L157.23 86.8 L167.44 83.13 L177.65 76.43 L187.86 70.36 L198.07 64.13 L208.27 57.64 L218.48 52.17 L228.69 45.37 L238.9 39.53 L249.11 34.35 L259.32 31.67 L269.52 32.09 L279.73 37.28 L289.94 45.02 L300.15 54.63 L310.36 68.63 L320.57 83.9 L330.77 99.38 L340.98 120.49 L351.19 141.7 L361.4 164.55 L371.61 192.35 L381.82 222.94 L392.02 263.77 L402.23 301.84 L412.44 280.91 L422.65 248.27 L432.86 221.21 L443.07 195.77 L453.27 181.63 L463.48 168.63 L473.69 155.89 L483.9 146.91 L494.11 137.38 L504.32 129.38 L514.52 121.87 L524.73 115.11 L534.94 108.27 L545.15 102 L555.36 94.56 L565.57 88.53 L575.77 82.58 L585.98 76.57 L596.19 71.18 L606.4 64.95 L616.61 58.15 L626.82 51.55 L637.02 45.57 L647.23 38.73 L657.44 32.82 L667.65 26.81 L677.86 21.55 L688.07 17.98 L698.27 16.9 L708.48 22.63 L718.69 31.26 L728.9 40.96 L739.11 54.32 L749.32 71.77 L759.52 91.43 L769.73 110.49 L779.94 135.13 L790.15 158.69 L800.36 189.53 L810.57 226.21 L820.77 286.65 L830.98 347.8 L841.19 303.41 L851.4 252.39 L861.61 221.22 L871.82 197.87 L882.02 184.3 L892.23 171.01 L902.44 158.67 L912.65 149.47 L922.86 141.15 L933.07 135.02 L943.27 128.25 L953.48 122.17 L963.69 116.83 L973.9 110.47 L984.11 105.74 L991.4 103.03" fill="none" stroke="#14a2c2" stroke-width="3.0" stroke-dasharray="11 8" clip-path="url(#ax)"/>
<g fill="#14a2c2" stroke="#14a2c2" stroke-width="1.6"><polygon points="121,108.92 113.09,104.55 113.09,113.29"/><polygon points="131.21,105.62 123.3,101.25 123.3,109.99"/><polygon points="141.42,100.64 133.5,96.27 133.5,105.01"/><polygon points="151.62,94.58 143.71,90.21 143.71,98.95"/><polygon points="161.83,86.8 153.92,82.43 153.92,91.17"/><polygon points="172.04,83.13 164.13,78.76 164.13,87.5"/><polygon points="182.25,76.43 174.34,72.06 174.34,80.8"/><polygon points="192.46,70.36 184.55,65.99 184.55,74.73"/><polygon points="202.67,64.13 194.75,59.76 194.75,68.5"/><polygon points="212.87,57.64 204.96,53.27 204.96,62.01"/><polygon points="223.08,52.17 215.17,47.8 215.17,56.54"/><polygon points="233.29,45.37 225.38,41 225.38,49.74"/><polygon points="243.5,39.53 235.59,35.16 235.59,43.9"/><polygon points="253.71,34.35 245.8,29.98 245.8,38.72"/><polygon points="263.92,31.67 256,27.3 256,36.04"/><polygon points="274.12,32.09 266.21,27.72 266.21,36.46"/><polygon points="284.33,37.28 276.42,32.91 276.42,41.65"/><polygon points="294.54,45.02 286.63,40.65 286.63,49.39"/><polygon points="304.75,54.63 296.84,50.26 296.84,59"/><polygon points="314.96,68.63 307.05,64.26 307.05,73"/><polygon points="325.17,83.9 317.25,79.53 317.25,88.27"/><polygon points="335.37,99.38 327.46,95.01 327.46,103.75"/><polygon points="345.58,120.49 337.67,116.12 337.67,124.86"/><polygon points="355.79,141.7 347.88,137.33 347.88,146.07"/><polygon points="366,164.55 358.09,160.18 358.09,168.92"/><polygon points="376.21,192.35 368.3,187.98 368.3,196.72"/><polygon points="386.42,222.94 378.5,218.57 378.5,227.31"/><polygon points="396.62,263.77 388.71,259.4 388.71,268.14"/><polygon points="406.83,301.84 398.92,297.47 398.92,306.21"/><polygon points="417.04,280.91 409.13,276.54 409.13,285.28"/><polygon points="427.25,248.27 419.34,243.9 419.34,252.64"/><polygon points="437.46,221.21 429.55,216.84 429.55,225.58"/><polygon points="447.67,195.77 439.75,191.4 439.75,200.14"/><polygon points="457.87,181.63 449.96,177.26 449.96,186"/><polygon points="468.08,168.63 460.17,164.26 460.17,173"/><polygon points="478.29,155.89 470.38,151.52 470.38,160.26"/><polygon points="488.5,146.91 480.59,142.54 480.59,151.28"/><polygon points="498.71,137.38 490.8,133.01 490.8,141.75"/><polygon points="508.92,129.38 501,125.01 501,133.75"/><polygon points="519.12,121.87 511.21,117.5 511.21,126.24"/><polygon points="529.33,115.11 521.42,110.74 521.42,119.48"/><polygon points="539.54,108.27 531.63,103.9 531.63,112.64"/><polygon points="549.75,102 541.84,97.63 541.84,106.37"/><polygon points="559.96,94.56 552.05,90.19 552.05,98.93"/><polygon points="570.17,88.53 562.25,84.16 562.25,92.9"/><polygon points="580.37,82.58 572.46,78.21 572.46,86.95"/><polygon points="590.58,76.57 582.67,72.2 582.67,80.94"/><polygon points="600.79,71.18 592.88,66.81 592.88,75.55"/><polygon points="611,64.95 603.09,60.58 603.09,69.32"/><polygon points="621.21,58.15 613.3,53.78 613.3,62.52"/><polygon points="631.42,51.55 623.5,47.18 623.5,55.92"/><polygon points="641.62,45.57 633.71,41.2 633.71,49.94"/><polygon points="651.83,38.73 643.92,34.36 643.92,43.1"/><polygon points="662.04,32.82 654.13,28.45 654.13,37.19"/><polygon points="672.25,26.81 664.34,22.44 664.34,31.18"/><polygon points="682.46,21.55 674.55,17.18 674.55,25.92"/><polygon points="692.67,17.98 684.75,13.61 684.75,22.35"/><polygon points="702.87,16.9 694.96,12.53 694.96,21.27"/><polygon points="713.08,22.63 705.17,18.26 705.17,27"/><polygon points="723.29,31.26 715.38,26.89 715.38,35.63"/><polygon points="733.5,40.96 725.59,36.59 725.59,45.33"/><polygon points="743.71,54.32 735.8,49.95 735.8,58.69"/><polygon points="753.92,71.77 746,67.4 746,76.14"/><polygon points="764.12,91.43 756.21,87.06 756.21,95.8"/><polygon points="774.33,110.49 766.42,106.12 766.42,114.86"/><polygon points="784.54,135.13 776.63,130.76 776.63,139.5"/><polygon points="794.75,158.69 786.84,154.32 786.84,163.06"/><polygon points="804.96,189.53 797.05,185.16 797.05,193.9"/><polygon points="815.17,226.21 807.25,221.84 807.25,230.58"/><polygon points="825.37,286.65 817.46,282.28 817.46,291.02"/><polygon points="835.58,347.8 827.67,343.43 827.67,352.17"/><polygon points="845.79,303.41 837.88,299.04 837.88,307.78"/><polygon points="856,252.39 848.09,248.02 848.09,256.76"/><polygon points="866.21,221.22 858.3,216.85 858.3,225.59"/><polygon points="876.42,197.87 868.5,193.5 868.5,202.24"/><polygon points="886.62,184.3 878.71,179.93 878.71,188.67"/><polygon points="896.83,171.01 888.92,166.64 888.92,175.38"/><polygon points="907.04,158.67 899.13,154.3 899.13,163.04"/><polygon points="917.25,149.47 909.34,145.1 909.34,153.84"/><polygon points="927.46,141.15 919.55,136.78 919.55,145.52"/><polygon points="937.67,135.02 929.75,130.65 929.75,139.39"/><polygon points="947.87,128.25 939.96,123.88 939.96,132.62"/><polygon points="958.08,122.17 950.17,117.8 950.17,126.54"/><polygon points="968.29,116.83 960.38,112.46 960.38,121.2"/><polygon points="978.5,110.47 970.59,106.1 970.59,114.84"/><polygon points="988.71,105.74 980.8,101.37 980.8,110.11"/></g>
<path d="M116.4 126.89 L120.77 124.92 L125.15 122.86 L129.52 120.7 L133.9 118.46 L138.27 116.13 L142.65 113.72 L147.02 111.23 L151.4 108.67 L155.77 105.97 L160.15 103.14 L164.52 100.2 L168.9 97.16 L173.27 94.05 L177.65 90.89 L182.02 87.69 L186.4 84.49 L190.77 81.25 L195.15 77.83 L199.52 74.34 L203.9 70.95 L208.27 67.84 L212.65 65.04 L217.02 62.41 L221.4 59.81 L225.77 57.08 L230.15 54.13 L234.52 51.06 L238.9 47.76 L243.27 44.03 L247.65 39.44 L252.02 36.32 L256.4 34.44 L260.77 33.24 L265.15 32.8 L269.52 33.14 L273.9 33.87 L278.27 35.47 L282.65 37.68 L287.02 39.51 L291.4 41.45 L295.77 44.18 L300.15 48.05 L304.52 53.08 L308.9 58.78 L313.27 64.68 L317.65 70.46 L322.02 75.66 L326.4 80.65 L330.77 86.34 L335.15 92.86 L339.52 99.3 L343.9 105.25 L348.27 111.15 L352.65 117.33 L357.02 123.7 L361.4 129.86 L365.77 135.68 L370.15 141.16 L374.52 145.98 L378.9 150.9 L383.27 157.28 L387.65 164.28 L392.02 170.93 L396.4 177.26 L400.77 183.24 L405.15 190.03 L409.52 197.87 L413.9 207.3 L418.27 215.82 L422.65 226.63 L427.02 235.17 L431.4 245.8 L435.77 257.22 L440.15 268.61 L444.52 280.14 L448.9 296.8 L453.27 310.01 L457.65 325.78 L462.02 341.19 L466.4 348.87 L470.77 347.94 L475.15 338.76 L479.52 324.55 L483.9 310.58 L488.27 297.89 L492.65 286.79 L497.02 275.66 L501.4 264.22 L505.77 254.37 L510.15 245.47 L514.52 237.15 L518.9 230.03 L523.27 224.27 L527.65 218.65 L532.02 212.81 L536.4 207.17 L540.77 201.83 L545.15 196.6 L549.52 191.49 L553.9 186.49 L558.27 181.59 L562.65 176.79 L567.02 172.07 L571.4 167.45 L575.77 162.91 L580.15 158.52 L584.52 154.34 L588.9 150.48 L593.27 146.9 L597.65 143.36 L602.02 139.79 L606.4 136.25 L610.77 132.61 L615.15 128.77 L619.52 124.75 L623.9 120.77 L628.27 116.8 L632.65 112.88 L637.02 109.02 L641.4 105.41 L645.77 100.74 L650.15 94.83 L654.52 90.47 L658.9 86.62 L663.27 82.13 L667.65 77.21 L672.02 72.48 L676.4 67.71 L680.77 62.89 L685.15 57.74 L689.52 52.07 L693.9 46.78 L698.27 41.83 L702.65 37.05 L707.02 32.59 L711.4 28.47 L715.77 24.84 L720.15 23 L724.52 22.66 L728.9 23.48 L733.27 25.43 L737.65 29.36 L742.02 35.67 L746.4 41.49 L750.77 47.12 L755.15 54.29 L759.52 62.43 L763.9 71.01 L768.27 78.53 L772.65 86.58 L777.02 93.31 L781.4 101.37 L785.77 108.55 L790.15 115.58 L794.52 122.06 L798.9 129.89 L803.27 136.69 L807.65 142.38 L812.02 150.17 L816.4 157.11 L820.77 164.16 L825.15 170.26 L829.52 178.12 L833.9 185.16 L838.27 193.09 L842.65 199.86 L847.02 206.68 L851.4 214.43 L855.77 223.24 L860.15 232.2 L864.52 241.65 L868.9 249.6 L873.27 260.44 L877.65 270.72 L882.02 282.49 L886.4 293.76 L890.77 312.4 L895.15 329.6 L899.52 347.41 L903.9 368.62 L908.27 408.76 L912.65 444.49 L917.02 450 L921.4 450 L925.77 447.13 L930.15 407.29 L934.52 372.63 L938.9 353.2 L943.27 338.95 L947.65 325.9 L952.02 315.56 L956.4 305.52 L960.77 296.04 L965.15 289.39 L969.52 281.95 L973.9 275.84 L978.27 270.04 L982.65 265.6 L987.02 259.73 L991.4 255.67" fill="none" stroke="#852436" stroke-width="3.0" stroke-dasharray="11 8" clip-path="url(#ax)"/>
<g fill="#852436" stroke="#852436" stroke-width="1.5" stroke-linejoin="round"><polygon points="116.4,123.79 115.5,125.33 113.72,125.34 114.6,126.89 113.72,128.44 115.5,128.45 116.4,129.99 117.3,128.45 119.08,128.44 118.2,126.89 119.08,125.34 117.3,125.33"/><polygon points="120.77,121.82 119.88,123.37 118.09,123.37 118.98,124.92 118.09,126.47 119.88,126.48 120.77,128.02 121.67,126.48 123.46,126.47 122.57,124.92 123.46,123.37 121.67,123.37"/><polygon points="125.15,119.76 124.25,121.3 122.47,121.31 123.35,122.86 122.47,124.41 124.25,124.42 125.15,125.96 126.05,124.42 127.83,124.41 126.95,122.86 127.83,121.31 126.05,121.3"/><polygon points="129.52,117.6 128.63,119.15 126.84,119.15 127.73,120.7 126.84,122.25 128.63,122.26 129.52,123.8 130.42,122.26 132.21,122.25 131.32,120.7 132.21,119.15 130.42,119.15"/><polygon points="133.9,115.36 133,116.9 131.22,116.91 132.1,118.46 131.22,120.01 133,120.02 133.9,121.56 134.8,120.02 136.58,120.01 135.7,118.46 136.58,116.91 134.8,116.9"/><polygon points="138.27,113.03 137.38,114.57 135.59,114.58 136.48,116.13 135.59,117.68 137.38,117.69 138.27,119.23 139.17,117.69 140.96,117.68 140.07,116.13 140.96,114.58 139.17,114.57"/><polygon points="142.65,110.62 141.75,112.16 139.97,112.17 140.85,113.72 139.97,115.27 141.75,115.28 142.65,116.82 143.55,115.28 145.33,115.27 144.45,113.72 145.33,112.17 143.55,112.16"/><polygon points="147.02,108.13 146.13,109.68 144.34,109.68 145.23,111.23 144.34,112.78 146.13,112.79 147.02,114.33 147.92,112.79 149.71,112.78 148.82,111.23 149.71,109.68 147.92,109.68"/><polygon points="151.4,105.57 150.5,107.11 148.72,107.12 149.6,108.67 148.72,110.22 150.5,110.23 151.4,111.77 152.3,110.23 154.08,110.22 153.2,108.67 154.08,107.12 152.3,107.11"/><polygon points="155.77,102.87 154.88,104.42 153.09,104.42 153.98,105.97 153.09,107.52 154.88,107.53 155.77,109.07 156.67,107.53 158.46,107.52 157.57,105.97 158.46,104.42 156.67,104.42"/><polygon points="160.15,100.04 159.25,101.59 157.47,101.59 158.35,103.14 157.47,104.69 159.25,104.7 160.15,106.24 161.05,104.7 162.83,104.69 161.95,103.14 162.83,101.59 161.05,101.59"/><polygon points="164.52,97.1 163.63,98.64 161.84,98.65 162.73,100.2 161.84,101.75 163.63,101.76 164.52,103.3 165.42,101.76 167.21,101.75 166.32,100.2 167.21,98.65 165.42,98.64"/><polygon points="168.9,94.06 168,95.61 166.22,95.61 167.1,97.16 166.22,98.71 168,98.72 168.9,100.26 169.8,98.72 171.58,98.71 170.7,97.16 171.58,95.61 169.8,95.61"/><polygon points="173.27,90.95 172.38,92.5 170.59,92.5 171.48,94.05 170.59,95.6 172.38,95.61 173.27,97.15 174.17,95.61 175.96,95.6 175.07,94.05 175.96,92.5 174.17,92.5"/><polygon points="177.65,87.79 176.75,89.33 174.97,89.34 175.85,90.89 174.97,92.44 176.75,92.45 177.65,93.99 178.55,92.45 180.33,92.44 179.45,90.89 180.33,89.34 178.55,89.33"/><polygon points="182.02,84.59 181.13,86.14 179.34,86.14 180.23,87.69 179.34,89.24 181.13,89.25 182.02,90.79 182.92,89.25 184.71,89.24 183.82,87.69 184.71,86.14 182.92,86.14"/><polygon points="186.4,81.39 185.5,82.93 183.72,82.94 184.6,84.49 183.72,86.04 185.5,86.04 186.4,87.59 187.3,86.04 189.08,86.04 188.2,84.49 189.08,82.94 187.3,82.93"/><polygon points="190.77,78.15 189.88,79.69 188.09,79.7 188.98,81.25 188.09,82.8 189.88,82.81 190.77,84.35 191.67,82.81 193.46,82.8 192.57,81.25 193.46,79.7 191.67,79.69"/><polygon points="195.15,74.73 194.25,76.27 192.47,76.28 193.35,77.83 192.47,79.38 194.25,79.38 195.15,80.93 196.05,79.38 197.83,79.38 196.95,77.83 197.83,76.28 196.05,76.27"/><polygon points="199.52,71.24 198.63,72.78 196.84,72.79 197.73,74.34 196.84,75.89 198.63,75.89 199.52,77.44 200.42,75.89 202.21,75.89 201.32,74.34 202.21,72.79 200.42,72.78"/><polygon points="203.9,67.85 203,69.39 201.22,69.4 202.1,70.95 201.22,72.5 203,72.51 203.9,74.05 204.8,72.51 206.58,72.5 205.7,70.95 206.58,69.4 204.8,69.39"/><polygon points="208.27,64.74 207.38,66.28 205.59,66.29 206.48,67.84 205.59,69.39 207.38,69.39 208.27,70.94 209.17,69.39 210.96,69.39 210.07,67.84 210.96,66.29 209.17,66.28"/><polygon points="212.65,61.94 211.75,63.48 209.97,63.49 210.85,65.04 209.97,66.59 211.75,66.6 212.65,68.14 213.55,66.6 215.33,66.59 214.45,65.04 215.33,63.49 213.55,63.48"/><polygon points="217.02,59.31 216.13,60.86 214.34,60.86 215.23,62.41 214.34,63.96 216.13,63.97 217.02,65.51 217.92,63.97 219.71,63.96 218.82,62.41 219.71,60.86 217.92,60.86"/><polygon points="221.4,56.71 220.5,58.25 218.72,58.26 219.6,59.81 218.72,61.36 220.5,61.37 221.4,62.91 222.3,61.37 224.08,61.36 223.2,59.81 224.08,58.26 222.3,58.25"/><polygon points="225.77,53.98 224.88,55.52 223.09,55.53 223.98,57.08 223.09,58.63 224.88,58.64 225.77,60.18 226.67,58.64 228.46,58.63 227.57,57.08 228.46,55.53 226.67,55.52"/><polygon points="230.15,51.03 229.25,52.57 227.47,52.58 228.35,54.13 227.47,55.68 229.25,55.68 230.15,57.23 231.05,55.68 232.83,55.68 231.95,54.13 232.83,52.58 231.05,52.57"/><polygon points="234.52,47.96 233.63,49.5 231.84,49.51 232.73,51.06 231.84,52.61 233.63,52.61 234.52,54.16 235.42,52.61 237.21,52.61 236.32,51.06 237.21,49.51 235.42,49.5"/><polygon points="238.9,44.66 238,46.21 236.22,46.21 237.1,47.76 236.22,49.31 238,49.32 238.9,50.86 239.8,49.32 241.58,49.31 240.7,47.76 241.58,46.21 239.8,46.21"/><polygon points="243.27,40.93 242.38,42.47 240.59,42.48 241.48,44.03 240.59,45.58 242.38,45.58 243.27,47.13 244.17,45.58 245.96,45.58 245.07,44.03 245.96,42.48 244.17,42.47"/><polygon points="247.65,36.34 246.75,37.88 244.97,37.89 245.85,39.44 244.97,40.99 246.75,41 247.65,42.54 248.55,41 250.33,40.99 249.45,39.44 250.33,37.89 248.55,37.88"/><polygon points="252.02,33.22 251.13,34.77 249.34,34.77 250.23,36.32 249.34,37.87 251.13,37.88 252.02,39.42 252.92,37.88 254.71,37.87 253.82,36.32 254.71,34.77 252.92,34.77"/><polygon points="256.4,31.34 255.5,32.89 253.72,32.89 254.6,34.44 253.72,35.99 255.5,36 256.4,37.54 257.3,36 259.08,35.99 258.2,34.44 259.08,32.89 257.3,32.89"/><polygon points="260.77,30.14 259.88,31.69 258.09,31.69 258.98,33.24 258.09,34.79 259.88,34.8 260.77,36.34 261.67,34.8 263.46,34.79 262.57,33.24 263.46,31.69 261.67,31.69"/><polygon points="265.15,29.7 264.25,31.25 262.47,31.25 263.35,32.8 262.47,34.35 264.25,34.36 265.15,35.9 266.05,34.36 267.83,34.35 266.95,32.8 267.83,31.25 266.05,31.25"/><polygon points="269.52,30.04 268.63,31.58 266.84,31.59 267.73,33.14 266.84,34.69 268.63,34.7 269.52,36.24 270.42,34.7 272.21,34.69 271.32,33.14 272.21,31.59 270.42,31.58"/><polygon points="273.9,30.77 273,32.32 271.22,32.32 272.1,33.87 271.22,35.42 273,35.43 273.9,36.97 274.8,35.43 276.58,35.42 275.7,33.87 276.58,32.32 274.8,32.32"/><polygon points="278.27,32.37 277.38,33.91 275.59,33.92 276.48,35.47 275.59,37.02 277.38,37.03 278.27,38.57 279.17,37.03 280.96,37.02 280.07,35.47 280.96,33.92 279.17,33.91"/><polygon points="282.65,34.58 281.75,36.12 279.97,36.13 280.85,37.68 279.97,39.23 281.75,39.24 282.65,40.78 283.55,39.24 285.33,39.23 284.45,37.68 285.33,36.13 283.55,36.12"/><polygon points="287.02,36.41 286.13,37.95 284.34,37.96 285.23,39.51 284.34,41.06 286.13,41.07 287.02,42.61 287.92,41.07 289.71,41.06 288.82,39.51 289.71,37.96 287.92,37.95"/><polygon points="291.4,38.35 290.5,39.89 288.72,39.9 289.6,41.45 288.72,43 290.5,43 291.4,44.55 292.3,43 294.08,43 293.2,41.45 294.08,39.9 292.3,39.89"/><polygon points="295.77,41.08 294.88,42.62 293.09,42.63 293.98,44.18 293.09,45.73 294.88,45.74 295.77,47.28 296.67,45.74 298.46,45.73 297.57,44.18 298.46,42.63 296.67,42.62"/><polygon points="300.15,44.95 299.25,46.49 297.47,46.5 298.35,48.05 297.47,49.6 299.25,49.61 300.15,51.15 301.05,49.61 302.83,49.6 301.95,48.05 302.83,46.5 301.05,46.49"/><polygon points="304.52,49.98 303.63,51.53 301.84,51.53 302.73,53.08 301.84,54.63 303.63,54.64 304.52,56.18 305.42,54.64 307.21,54.63 306.32,53.08 307.21,51.53 305.42,51.53"/><polygon points="308.9,55.68 308,57.22 306.22,57.23 307.1,58.78 306.22,60.33 308,60.34 308.9,61.88 309.8,60.34 311.58,60.33 310.7,58.78 311.58,57.23 309.8,57.22"/><polygon points="313.27,61.58 312.38,63.13 310.59,63.13 311.48,64.68 310.59,66.23 312.38,66.24 313.27,67.78 314.17,66.24 315.96,66.23 315.07,64.68 315.96,63.13 314.17,63.13"/><polygon points="317.65,67.36 316.75,68.9 314.97,68.91 315.85,70.46 314.97,72.01 316.75,72.01 317.65,73.56 318.55,72.01 320.33,72.01 319.45,70.46 320.33,68.91 318.55,68.9"/><polygon points="322.02,72.56 321.13,74.1 319.34,74.11 320.23,75.66 319.34,77.21 321.13,77.22 322.02,78.76 322.92,77.22 324.71,77.21 323.82,75.66 324.71,74.11 322.92,74.1"/><polygon points="326.4,77.55 325.5,79.09 323.72,79.1 324.6,80.65 323.72,82.2 325.5,82.21 326.4,83.75 327.3,82.21 329.08,82.2 328.2,80.65 329.08,79.1 327.3,79.09"/><polygon points="330.77,83.24 329.88,84.78 328.09,84.79 328.98,86.34 328.09,87.89 329.88,87.9 330.77,89.44 331.67,87.9 333.46,87.89 332.57,86.34 333.46,84.79 331.67,84.78"/><polygon points="335.15,89.76 334.25,91.3 332.47,91.31 333.35,92.86 332.47,94.41 334.25,94.42 335.15,95.96 336.05,94.42 337.83,94.41 336.95,92.86 337.83,91.31 336.05,91.3"/><polygon points="339.52,96.2 338.63,97.74 336.84,97.75 337.73,99.3 336.84,100.85 338.63,100.85 339.52,102.4 340.42,100.85 342.21,100.85 341.32,99.3 342.21,97.75 340.42,97.74"/><polygon points="343.9,102.15 343,103.69 341.22,103.7 342.1,105.25 341.22,106.8 343,106.81 343.9,108.35 344.8,106.81 346.58,106.8 345.7,105.25 346.58,103.7 344.8,103.69"/><polygon points="348.27,108.05 347.38,109.59 345.59,109.6 346.48,111.15 345.59,112.7 347.38,112.7 348.27,114.25 349.17,112.7 350.96,112.7 350.07,111.15 350.96,109.6 349.17,109.59"/><polygon points="352.65,114.23 351.75,115.77 349.97,115.78 350.85,117.33 349.97,118.88 351.75,118.89 352.65,120.43 353.55,118.89 355.33,118.88 354.45,117.33 355.33,115.78 353.55,115.77"/><polygon points="357.02,120.6 356.13,122.14 354.34,122.15 355.23,123.7 354.34,125.25 356.13,125.26 357.02,126.8 357.92,125.26 359.71,125.25 358.82,123.7 359.71,122.15 357.92,122.14"/><polygon points="361.4,126.76 360.5,128.31 358.72,128.31 359.6,129.86 358.72,131.41 360.5,131.42 361.4,132.96 362.3,131.42 364.08,131.41 363.2,129.86 364.08,128.31 362.3,128.31"/><polygon points="365.77,132.58 364.88,134.12 363.09,134.13 363.98,135.68 363.09,137.23 364.88,137.23 365.77,138.78 366.67,137.23 368.46,137.23 367.57,135.68 368.46,134.13 366.67,134.12"/><polygon points="370.15,138.06 369.25,139.6 367.47,139.61 368.35,141.16 367.47,142.71 369.25,142.72 370.15,144.26 371.05,142.72 372.83,142.71 371.95,141.16 372.83,139.61 371.05,139.6"/><polygon points="374.52,142.88 373.63,144.42 371.84,144.43 372.73,145.98 371.84,147.53 373.63,147.54 374.52,149.08 375.42,147.54 377.21,147.53 376.32,145.98 377.21,144.43 375.42,144.42"/><polygon points="378.9,147.8 378,149.35 376.22,149.35 377.1,150.9 376.22,152.45 378,152.46 378.9,154 379.8,152.46 381.58,152.45 380.7,150.9 381.58,149.35 379.8,149.35"/><polygon points="383.27,154.18 382.38,155.72 380.59,155.73 381.48,157.28 380.59,158.83 382.38,158.83 383.27,160.38 384.17,158.83 385.96,158.83 385.07,157.28 385.96,155.73 384.17,155.72"/><polygon points="387.65,161.18 386.75,162.73 384.97,162.73 385.85,164.28 384.97,165.83 386.75,165.84 387.65,167.38 388.55,165.84 390.33,165.83 389.45,164.28 390.33,162.73 388.55,162.73"/><polygon points="392.02,167.83 391.13,169.38 389.34,169.38 390.23,170.93 389.34,172.48 391.13,172.49 392.02,174.03 392.92,172.49 394.71,172.48 393.82,170.93 394.71,169.38 392.92,169.38"/><polygon points="396.4,174.16 395.5,175.7 393.72,175.71 394.6,177.26 393.72,178.81 395.5,178.81 396.4,180.36 397.3,178.81 399.08,178.81 398.2,177.26 399.08,175.71 397.3,175.7"/><polygon points="400.77,180.14 399.88,181.69 398.09,181.69 398.98,183.24 398.09,184.79 399.88,184.8 400.77,186.34 401.67,184.8 403.46,184.79 402.57,183.24 403.46,181.69 401.67,181.69"/><polygon points="405.15,186.93 404.25,188.47 402.47,188.48 403.35,190.03 402.47,191.58 404.25,191.58 405.15,193.13 406.05,191.58 407.83,191.58 406.95,190.03 407.83,188.48 406.05,188.47"/><polygon points="409.52,194.77 408.63,196.31 406.84,196.32 407.73,197.87 406.84,199.42 408.63,199.42 409.52,200.97 410.42,199.42 412.21,199.42 411.32,197.87 412.21,196.32 410.42,196.31"/><polygon points="413.9,204.2 413,205.74 411.22,205.75 412.1,207.3 411.22,208.85 413,208.86 413.9,210.4 414.8,208.86 416.58,208.85 415.7,207.3 416.58,205.75 414.8,205.74"/><polygon points="418.27,212.72 417.38,214.26 415.59,214.27 416.48,215.82 415.59,217.37 417.38,217.37 418.27,218.92 419.17,217.37 420.96,217.37 420.07,215.82 420.96,214.27 419.17,214.26"/><polygon points="422.65,223.53 421.75,225.07 419.97,225.08 420.85,226.63 419.97,228.18 421.75,228.19 422.65,229.73 423.55,228.19 425.33,228.18 424.45,226.63 425.33,225.08 423.55,225.07"/><polygon points="427.02,232.07 426.13,233.61 424.34,233.62 425.23,235.17 424.34,236.72 426.13,236.73 427.02,238.27 427.92,236.73 429.71,236.72 428.82,235.17 429.71,233.62 427.92,233.61"/><polygon points="431.4,242.7 430.5,244.25 428.72,244.25 429.6,245.8 428.72,247.35 430.5,247.36 431.4,248.9 432.3,247.36 434.08,247.35 433.2,245.8 434.08,244.25 432.3,244.25"/><polygon points="435.77,254.12 434.88,255.66 433.09,255.67 433.98,257.22 433.09,258.77 434.88,258.77 435.77,260.32 436.67,258.77 438.46,258.77 437.57,257.22 438.46,255.67 436.67,255.66"/><polygon points="440.15,265.51 439.25,267.05 437.47,267.06 438.35,268.61 437.47,270.16 439.25,270.16 440.15,271.71 441.05,270.16 442.83,270.16 441.95,268.61 442.83,267.06 441.05,267.05"/><polygon points="444.52,277.04 443.63,278.58 441.84,278.59 442.73,280.14 441.84,281.69 443.63,281.7 444.52,283.24 445.42,281.7 447.21,281.69 446.32,280.14 447.21,278.59 445.42,278.58"/><polygon points="448.9,293.7 448,295.25 446.22,295.25 447.1,296.8 446.22,298.35 448,298.36 448.9,299.9 449.8,298.36 451.58,298.35 450.7,296.8 451.58,295.25 449.8,295.25"/><polygon points="453.27,306.91 452.38,308.46 450.59,308.46 451.48,310.01 450.59,311.56 452.38,311.57 453.27,313.11 454.17,311.57 455.96,311.56 455.07,310.01 455.96,308.46 454.17,308.46"/><polygon points="457.65,322.68 456.75,324.23 454.97,324.23 455.85,325.78 454.97,327.33 456.75,327.34 457.65,328.88 458.55,327.34 460.33,327.33 459.45,325.78 460.33,324.23 458.55,324.23"/><polygon points="462.02,338.09 461.13,339.64 459.34,339.64 460.23,341.19 459.34,342.74 461.13,342.75 462.02,344.29 462.92,342.75 464.71,342.74 463.82,341.19 464.71,339.64 462.92,339.64"/><polygon points="466.4,345.77 465.5,347.32 463.72,347.32 464.6,348.87 463.72,350.42 465.5,350.43 466.4,351.97 467.3,350.43 469.08,350.42 468.2,348.87 469.08,347.32 467.3,347.32"/><polygon points="470.77,344.84 469.88,346.39 468.09,346.39 468.98,347.94 468.09,349.49 469.88,349.5 470.77,351.04 471.67,349.5 473.46,349.49 472.57,347.94 473.46,346.39 471.67,346.39"/><polygon points="475.15,335.66 474.25,337.2 472.47,337.21 473.35,338.76 472.47,340.31 474.25,340.32 475.15,341.86 476.05,340.32 477.83,340.31 476.95,338.76 477.83,337.21 476.05,337.2"/><polygon points="479.52,321.45 478.63,323 476.84,323 477.73,324.55 476.84,326.1 478.63,326.11 479.52,327.65 480.42,326.11 482.21,326.1 481.32,324.55 482.21,323 480.42,323"/><polygon points="483.9,307.48 483,309.02 481.22,309.03 482.1,310.58 481.22,312.13 483,312.13 483.9,313.68 484.8,312.13 486.58,312.13 485.7,310.58 486.58,309.03 484.8,309.02"/><polygon points="488.27,294.79 487.38,296.33 485.59,296.34 486.48,297.89 485.59,299.44 487.38,299.44 488.27,300.99 489.17,299.44 490.96,299.44 490.07,297.89 490.96,296.34 489.17,296.33"/><polygon points="492.65,283.69 491.75,285.23 489.97,285.24 490.85,286.79 489.97,288.34 491.75,288.34 492.65,289.89 493.55,288.34 495.33,288.34 494.45,286.79 495.33,285.24 493.55,285.23"/><polygon points="497.02,272.56 496.13,274.11 494.34,274.11 495.23,275.66 494.34,277.21 496.13,277.22 497.02,278.76 497.92,277.22 499.71,277.21 498.82,275.66 499.71,274.11 497.92,274.11"/><polygon points="501.4,261.12 500.5,262.66 498.72,262.67 499.6,264.22 498.72,265.77 500.5,265.78 501.4,267.32 502.3,265.78 504.08,265.77 503.2,264.22 504.08,262.67 502.3,262.66"/><polygon points="505.77,251.27 504.88,252.81 503.09,252.82 503.98,254.37 503.09,255.92 504.88,255.92 505.77,257.47 506.67,255.92 508.46,255.92 507.57,254.37 508.46,252.82 506.67,252.81"/><polygon points="510.15,242.37 509.25,243.91 507.47,243.92 508.35,245.47 507.47,247.02 509.25,247.02 510.15,248.57 511.05,247.02 512.83,247.02 511.95,245.47 512.83,243.92 511.05,243.91"/><polygon points="514.52,234.05 513.63,235.59 511.84,235.6 512.73,237.15 511.84,238.7 513.63,238.71 514.52,240.25 515.42,238.71 517.21,238.7 516.32,237.15 517.21,235.6 515.42,235.59"/><polygon points="518.9,226.93 518,228.47 516.22,228.48 517.1,230.03 516.22,231.58 518,231.58 518.9,233.13 519.8,231.58 521.58,231.58 520.7,230.03 521.58,228.48 519.8,228.47"/><polygon points="523.27,221.17 522.38,222.72 520.59,222.72 521.48,224.27 520.59,225.82 522.38,225.83 523.27,227.37 524.17,225.83 525.96,225.82 525.07,224.27 525.96,222.72 524.17,222.72"/><polygon points="527.65,215.55 526.75,217.09 524.97,217.1 525.85,218.65 524.97,220.2 526.75,220.2 527.65,221.75 528.55,220.2 530.33,220.2 529.45,218.65 530.33,217.1 528.55,217.09"/><polygon points="532.02,209.71 531.13,211.26 529.34,211.26 530.23,212.81 529.34,214.36 531.13,214.37 532.02,215.91 532.92,214.37 534.71,214.36 533.82,212.81 534.71,211.26 532.92,211.26"/><polygon points="536.4,204.07 535.5,205.61 533.72,205.62 534.6,207.17 533.72,208.72 535.5,208.73 536.4,210.27 537.3,208.73 539.08,208.72 538.2,207.17 539.08,205.62 537.3,205.61"/><polygon points="540.77,198.73 539.88,200.27 538.09,200.28 538.98,201.83 538.09,203.38 539.88,203.39 540.77,204.93 541.67,203.39 543.46,203.38 542.57,201.83 543.46,200.28 541.67,200.27"/><polygon points="545.15,193.5 544.25,195.05 542.47,195.05 543.35,196.6 542.47,198.15 544.25,198.16 545.15,199.7 546.05,198.16 547.83,198.15 546.95,196.6 547.83,195.05 546.05,195.05"/><polygon points="549.52,188.39 548.63,189.94 546.84,189.94 547.73,191.49 546.84,193.04 548.63,193.05 549.52,194.59 550.42,193.05 552.21,193.04 551.32,191.49 552.21,189.94 550.42,189.94"/><polygon points="553.9,183.39 553,184.93 551.22,184.94 552.1,186.49 551.22,188.04 553,188.05 553.9,189.59 554.8,188.05 556.58,188.04 555.7,186.49 556.58,184.94 554.8,184.93"/><polygon points="558.27,178.49 557.38,180.03 555.59,180.04 556.48,181.59 555.59,183.14 557.38,183.15 558.27,184.69 559.17,183.15 560.96,183.14 560.07,181.59 560.96,180.04 559.17,180.03"/><polygon points="562.65,173.69 561.75,175.23 559.97,175.24 560.85,176.79 559.97,178.34 561.75,178.34 562.65,179.89 563.55,178.34 565.33,178.34 564.45,176.79 565.33,175.24 563.55,175.23"/><polygon points="567.02,168.97 566.13,170.52 564.34,170.52 565.23,172.07 564.34,173.62 566.13,173.63 567.02,175.17 567.92,173.63 569.71,173.62 568.82,172.07 569.71,170.52 567.92,170.52"/><polygon points="571.4,164.35 570.5,165.89 568.72,165.9 569.6,167.45 568.72,169 570.5,169.01 571.4,170.55 572.3,169.01 574.08,169 573.2,167.45 574.08,165.9 572.3,165.89"/><polygon points="575.77,159.81 574.88,161.35 573.09,161.36 573.98,162.91 573.09,164.46 574.88,164.47 575.77,166.01 576.67,164.47 578.46,164.46 577.57,162.91 578.46,161.36 576.67,161.35"/><polygon points="580.15,155.42 579.25,156.96 577.47,156.97 578.35,158.52 577.47,160.07 579.25,160.07 580.15,161.62 581.05,160.07 582.83,160.07 581.95,158.52 582.83,156.97 581.05,156.96"/><polygon points="584.52,151.24 583.63,152.79 581.84,152.79 582.73,154.34 581.84,155.89 583.63,155.9 584.52,157.44 585.42,155.9 587.21,155.89 586.32,154.34 587.21,152.79 585.42,152.79"/><polygon points="588.9,147.38 588,148.93 586.22,148.93 587.1,150.48 586.22,152.03 588,152.04 588.9,153.58 589.8,152.04 591.58,152.03 590.7,150.48 591.58,148.93 589.8,148.93"/><polygon points="593.27,143.8 592.38,145.35 590.59,145.35 591.48,146.9 590.59,148.45 592.38,148.46 593.27,150 594.17,148.46 595.96,148.45 595.07,146.9 595.96,145.35 594.17,145.35"/><polygon points="597.65,140.26 596.75,141.8 594.97,141.81 595.85,143.36 594.97,144.91 596.75,144.92 597.65,146.46 598.55,144.92 600.33,144.91 599.45,143.36 600.33,141.81 598.55,141.8"/><polygon points="602.02,136.69 601.13,138.24 599.34,138.24 600.23,139.79 599.34,141.34 601.13,141.35 602.02,142.89 602.92,141.35 604.71,141.34 603.82,139.79 604.71,138.24 602.92,138.24"/><polygon points="606.4,133.15 605.5,134.69 603.72,134.7 604.6,136.25 603.72,137.8 605.5,137.8 606.4,139.35 607.3,137.8 609.08,137.8 608.2,136.25 609.08,134.7 607.3,134.69"/><polygon points="610.77,129.51 609.88,131.05 608.09,131.06 608.98,132.61 608.09,134.16 609.88,134.17 610.77,135.71 611.67,134.17 613.46,134.16 612.57,132.61 613.46,131.06 611.67,131.05"/><polygon points="615.15,125.67 614.25,127.21 612.47,127.22 613.35,128.77 612.47,130.32 614.25,130.32 615.15,131.87 616.05,130.32 617.83,130.32 616.95,128.77 617.83,127.22 616.05,127.21"/><polygon points="619.52,121.65 618.63,123.2 616.84,123.2 617.73,124.75 616.84,126.3 618.63,126.31 619.52,127.85 620.42,126.31 622.21,126.3 621.32,124.75 622.21,123.2 620.42,123.2"/><polygon points="623.9,117.67 623,119.21 621.22,119.22 622.1,120.77 621.22,122.32 623,122.33 623.9,123.87 624.8,122.33 626.58,122.32 625.7,120.77 626.58,119.22 624.8,119.21"/><polygon points="628.27,113.7 627.38,115.24 625.59,115.25 626.48,116.8 625.59,118.35 627.38,118.36 628.27,119.9 629.17,118.36 630.96,118.35 630.07,116.8 630.96,115.25 629.17,115.24"/><polygon points="632.65,109.78 631.75,111.33 629.97,111.33 630.85,112.88 629.97,114.43 631.75,114.44 632.65,115.98 633.55,114.44 635.33,114.43 634.45,112.88 635.33,111.33 633.55,111.33"/><polygon points="637.02,105.92 636.13,107.46 634.34,107.47 635.23,109.02 634.34,110.57 636.13,110.58 637.02,112.12 637.92,110.58 639.71,110.57 638.82,109.02 639.71,107.47 637.92,107.46"/><polygon points="641.4,102.31 640.5,103.85 638.72,103.86 639.6,105.41 638.72,106.96 640.5,106.96 641.4,108.51 642.3,106.96 644.08,106.96 643.2,105.41 644.08,103.86 642.3,103.85"/><polygon points="645.77,97.64 644.88,99.18 643.09,99.19 643.98,100.74 643.09,102.29 644.88,102.3 645.77,103.84 646.67,102.3 648.46,102.29 647.57,100.74 648.46,99.19 646.67,99.18"/><polygon points="650.15,91.73 649.25,93.27 647.47,93.28 648.35,94.83 647.47,96.38 649.25,96.38 650.15,97.93 651.05,96.38 652.83,96.38 651.95,94.83 652.83,93.28 651.05,93.27"/><polygon points="654.52,87.37 653.63,88.92 651.84,88.92 652.73,90.47 651.84,92.02 653.63,92.03 654.52,93.57 655.42,92.03 657.21,92.02 656.32,90.47 657.21,88.92 655.42,88.92"/><polygon points="658.9,83.52 658,85.07 656.22,85.07 657.1,86.62 656.22,88.17 658,88.18 658.9,89.72 659.8,88.18 661.58,88.17 660.7,86.62 661.58,85.07 659.8,85.07"/><polygon points="663.27,79.03 662.38,80.57 660.59,80.58 661.48,82.13 660.59,83.68 662.38,83.68 663.27,85.23 664.17,83.68 665.96,83.68 665.07,82.13 665.96,80.58 664.17,80.57"/><polygon points="667.65,74.11 666.75,75.65 664.97,75.66 665.85,77.21 664.97,78.76 666.75,78.77 667.65,80.31 668.55,78.77 670.33,78.76 669.45,77.21 670.33,75.66 668.55,75.65"/><polygon points="672.02,69.38 671.13,70.93 669.34,70.93 670.23,72.48 669.34,74.03 671.13,74.04 672.02,75.58 672.92,74.04 674.71,74.03 673.82,72.48 674.71,70.93 672.92,70.93"/><polygon points="676.4,64.61 675.5,66.15 673.72,66.16 674.6,67.71 673.72,69.26 675.5,69.27 676.4,70.81 677.3,69.27 679.08,69.26 678.2,67.71 679.08,66.16 677.3,66.15"/><polygon points="680.77,59.79 679.88,61.33 678.09,61.34 678.98,62.89 678.09,64.44 679.88,64.45 680.77,65.99 681.67,64.45 683.46,64.44 682.57,62.89 683.46,61.34 681.67,61.33"/><polygon points="685.15,54.64 684.25,56.18 682.47,56.19 683.35,57.74 682.47,59.29 684.25,59.3 685.15,60.84 686.05,59.3 687.83,59.29 686.95,57.74 687.83,56.19 686.05,56.18"/><polygon points="689.52,48.97 688.63,50.51 686.84,50.52 687.73,52.07 686.84,53.62 688.63,53.62 689.52,55.17 690.42,53.62 692.21,53.62 691.32,52.07 692.21,50.52 690.42,50.51"/><polygon points="693.9,43.68 693,45.23 691.22,45.23 692.1,46.78 691.22,48.33 693,48.34 693.9,49.88 694.8,48.34 696.58,48.33 695.7,46.78 696.58,45.23 694.8,45.23"/><polygon points="698.27,38.73 697.38,40.27 695.59,40.28 696.48,41.83 695.59,43.38 697.38,43.38 698.27,44.93 699.17,43.38 700.96,43.38 700.07,41.83 700.96,40.28 699.17,40.27"/><polygon points="702.65,33.95 701.75,35.49 699.97,35.5 700.85,37.05 699.97,38.6 701.75,38.6 702.65,40.15 703.55,38.6 705.33,38.6 704.45,37.05 705.33,35.5 703.55,35.49"/><polygon points="707.02,29.49 706.13,31.03 704.34,31.04 705.23,32.59 704.34,34.14 706.13,34.14 707.02,35.69 707.92,34.14 709.71,34.14 708.82,32.59 709.71,31.04 707.92,31.03"/><polygon points="711.4,25.37 710.5,26.91 708.72,26.92 709.6,28.47 708.72,30.02 710.5,30.03 711.4,31.57 712.3,30.03 714.08,30.02 713.2,28.47 714.08,26.92 712.3,26.91"/><polygon points="715.77,21.74 714.88,23.28 713.09,23.29 713.98,24.84 713.09,26.39 714.88,26.39 715.77,27.94 716.67,26.39 718.46,26.39 717.57,24.84 718.46,23.29 716.67,23.28"/><polygon points="720.15,19.9 719.25,21.45 717.47,21.45 718.35,23 717.47,24.55 719.25,24.56 720.15,26.1 721.05,24.56 722.83,24.55 721.95,23 722.83,21.45 721.05,21.45"/><polygon points="724.52,19.56 723.63,21.1 721.84,21.11 722.73,22.66 721.84,24.21 723.63,24.22 724.52,25.76 725.42,24.22 727.21,24.21 726.32,22.66 727.21,21.11 725.42,21.1"/><polygon points="728.9,20.38 728,21.92 726.22,21.93 727.1,23.48 726.22,25.03 728,25.03 728.9,26.58 729.8,25.03 731.58,25.03 730.7,23.48 731.58,21.93 729.8,21.92"/><polygon points="733.27,22.33 732.38,23.87 730.59,23.88 731.48,25.43 730.59,26.98 732.38,26.98 733.27,28.53 734.17,26.98 735.96,26.98 735.07,25.43 735.96,23.88 734.17,23.87"/><polygon points="737.65,26.26 736.75,27.81 734.97,27.81 735.85,29.36 734.97,30.91 736.75,30.92 737.65,32.46 738.55,30.92 740.33,30.91 739.45,29.36 740.33,27.81 738.55,27.81"/><polygon points="742.02,32.57 741.13,34.11 739.34,34.12 740.23,35.67 739.34,37.22 741.13,37.23 742.02,38.77 742.92,37.23 744.71,37.22 743.82,35.67 744.71,34.12 742.92,34.11"/><polygon points="746.4,38.39 745.5,39.93 743.72,39.94 744.6,41.49 743.72,43.04 745.5,43.05 746.4,44.59 747.3,43.05 749.08,43.04 748.2,41.49 749.08,39.94 747.3,39.93"/><polygon points="750.77,44.02 749.88,45.56 748.09,45.57 748.98,47.12 748.09,48.67 749.88,48.68 750.77,50.22 751.67,48.68 753.46,48.67 752.57,47.12 753.46,45.57 751.67,45.56"/><polygon points="755.15,51.19 754.25,52.73 752.47,52.74 753.35,54.29 752.47,55.84 754.25,55.84 755.15,57.39 756.05,55.84 757.83,55.84 756.95,54.29 757.83,52.74 756.05,52.73"/><polygon points="759.52,59.33 758.63,60.87 756.84,60.88 757.73,62.43 756.84,63.98 758.63,63.98 759.52,65.53 760.42,63.98 762.21,63.98 761.32,62.43 762.21,60.88 760.42,60.87"/><polygon points="763.9,67.91 763,69.45 761.22,69.46 762.1,71.01 761.22,72.56 763,72.57 763.9,74.11 764.8,72.57 766.58,72.56 765.7,71.01 766.58,69.46 764.8,69.45"/><polygon points="768.27,75.43 767.38,76.98 765.59,76.98 766.48,78.53 765.59,80.08 767.38,80.09 768.27,81.63 769.17,80.09 770.96,80.08 770.07,78.53 770.96,76.98 769.17,76.98"/><polygon points="772.65,83.48 771.75,85.03 769.97,85.03 770.85,86.58 769.97,88.13 771.75,88.14 772.65,89.68 773.55,88.14 775.33,88.13 774.45,86.58 775.33,85.03 773.55,85.03"/><polygon points="777.02,90.21 776.13,91.75 774.34,91.76 775.23,93.31 774.34,94.86 776.13,94.86 777.02,96.41 777.92,94.86 779.71,94.86 778.82,93.31 779.71,91.76 777.92,91.75"/><polygon points="781.4,98.27 780.5,99.82 778.72,99.82 779.6,101.37 778.72,102.92 780.5,102.93 781.4,104.47 782.3,102.93 784.08,102.92 783.2,101.37 784.08,99.82 782.3,99.82"/><polygon points="785.77,105.45 784.88,106.99 783.09,107 783.98,108.55 783.09,110.1 784.88,110.1 785.77,111.65 786.67,110.1 788.46,110.1 787.57,108.55 788.46,107 786.67,106.99"/><polygon points="790.15,112.48 789.25,114.02 787.47,114.03 788.35,115.58 787.47,117.13 789.25,117.13 790.15,118.68 791.05,117.13 792.83,117.13 791.95,115.58 792.83,114.03 791.05,114.02"/><polygon points="794.52,118.96 793.63,120.5 791.84,120.51 792.73,122.06 791.84,123.61 793.63,123.62 794.52,125.16 795.42,123.62 797.21,123.61 796.32,122.06 797.21,120.51 795.42,120.5"/><polygon points="798.9,126.79 798,128.34 796.22,128.34 797.1,129.89 796.22,131.44 798,131.45 798.9,132.99 799.8,131.45 801.58,131.44 800.7,129.89 801.58,128.34 799.8,128.34"/><polygon points="803.27,133.59 802.38,135.13 800.59,135.14 801.48,136.69 800.59,138.24 802.38,138.24 803.27,139.79 804.17,138.24 805.96,138.24 805.07,136.69 805.96,135.14 804.17,135.13"/><polygon points="807.65,139.28 806.75,140.82 804.97,140.83 805.85,142.38 804.97,143.93 806.75,143.94 807.65,145.48 808.55,143.94 810.33,143.93 809.45,142.38 810.33,140.83 808.55,140.82"/><polygon points="812.02,147.07 811.13,148.62 809.34,148.62 810.23,150.17 809.34,151.72 811.13,151.73 812.02,153.27 812.92,151.73 814.71,151.72 813.82,150.17 814.71,148.62 812.92,148.62"/><polygon points="816.4,154.01 815.5,155.56 813.72,155.56 814.6,157.11 813.72,158.66 815.5,158.67 816.4,160.21 817.3,158.67 819.08,158.66 818.2,157.11 819.08,155.56 817.3,155.56"/><polygon points="820.77,161.06 819.88,162.6 818.09,162.61 818.98,164.16 818.09,165.71 819.88,165.71 820.77,167.26 821.67,165.71 823.46,165.71 822.57,164.16 823.46,162.61 821.67,162.6"/><polygon points="825.15,167.16 824.25,168.7 822.47,168.71 823.35,170.26 822.47,171.81 824.25,171.82 825.15,173.36 826.05,171.82 827.83,171.81 826.95,170.26 827.83,168.71 826.05,168.7"/><polygon points="829.52,175.02 828.63,176.57 826.84,176.57 827.73,178.12 826.84,179.67 828.63,179.68 829.52,181.22 830.42,179.68 832.21,179.67 831.32,178.12 832.21,176.57 830.42,176.57"/><polygon points="833.9,182.06 833,183.6 831.22,183.61 832.1,185.16 831.22,186.71 833,186.72 833.9,188.26 834.8,186.72 836.58,186.71 835.7,185.16 836.58,183.61 834.8,183.6"/><polygon points="838.27,189.99 837.38,191.53 835.59,191.54 836.48,193.09 835.59,194.64 837.38,194.65 838.27,196.19 839.17,194.65 840.96,194.64 840.07,193.09 840.96,191.54 839.17,191.53"/><polygon points="842.65,196.76 841.75,198.3 839.97,198.31 840.85,199.86 839.97,201.41 841.75,201.42 842.65,202.96 843.55,201.42 845.33,201.41 844.45,199.86 845.33,198.31 843.55,198.3"/><polygon points="847.02,203.58 846.13,205.12 844.34,205.13 845.23,206.68 844.34,208.23 846.13,208.24 847.02,209.78 847.92,208.24 849.71,208.23 848.82,206.68 849.71,205.13 847.92,205.12"/><polygon points="851.4,211.33 850.5,212.88 848.72,212.88 849.6,214.43 848.72,215.98 850.5,215.99 851.4,217.53 852.3,215.99 854.08,215.98 853.2,214.43 854.08,212.88 852.3,212.88"/><polygon points="855.77,220.14 854.88,221.69 853.09,221.69 853.98,223.24 853.09,224.79 854.88,224.8 855.77,226.34 856.67,224.8 858.46,224.79 857.57,223.24 858.46,221.69 856.67,221.69"/><polygon points="860.15,229.1 859.25,230.64 857.47,230.65 858.35,232.2 857.47,233.75 859.25,233.75 860.15,235.3 861.05,233.75 862.83,233.75 861.95,232.2 862.83,230.65 861.05,230.64"/><polygon points="864.52,238.55 863.63,240.1 861.84,240.1 862.73,241.65 861.84,243.2 863.63,243.21 864.52,244.75 865.42,243.21 867.21,243.2 866.32,241.65 867.21,240.1 865.42,240.1"/><polygon points="868.9,246.5 868,248.04 866.22,248.05 867.1,249.6 866.22,251.15 868,251.16 868.9,252.7 869.8,251.16 871.58,251.15 870.7,249.6 871.58,248.05 869.8,248.04"/><polygon points="873.27,257.34 872.38,258.88 870.59,258.89 871.48,260.44 870.59,261.99 872.38,262 873.27,263.54 874.17,262 875.96,261.99 875.07,260.44 875.96,258.89 874.17,258.88"/><polygon points="877.65,267.62 876.75,269.17 874.97,269.17 875.85,270.72 874.97,272.27 876.75,272.28 877.65,273.82 878.55,272.28 880.33,272.27 879.45,270.72 880.33,269.17 878.55,269.17"/><polygon points="882.02,279.39 881.13,280.93 879.34,280.94 880.23,282.49 879.34,284.04 881.13,284.05 882.02,285.59 882.92,284.05 884.71,284.04 883.82,282.49 884.71,280.94 882.92,280.93"/><polygon points="886.4,290.66 885.5,292.2 883.72,292.21 884.6,293.76 883.72,295.31 885.5,295.32 886.4,296.86 887.3,295.32 889.08,295.31 888.2,293.76 889.08,292.21 887.3,292.2"/><polygon points="890.77,309.3 889.88,310.84 888.09,310.85 888.98,312.4 888.09,313.95 889.88,313.95 890.77,315.5 891.67,313.95 893.46,313.95 892.57,312.4 893.46,310.85 891.67,310.84"/><polygon points="895.15,326.5 894.25,328.04 892.47,328.05 893.35,329.6 892.47,331.15 894.25,331.16 895.15,332.7 896.05,331.16 897.83,331.15 896.95,329.6 897.83,328.05 896.05,328.04"/><polygon points="899.52,344.31 898.63,345.85 896.84,345.86 897.73,347.41 896.84,348.96 898.63,348.97 899.52,350.51 900.42,348.97 902.21,348.96 901.32,347.41 902.21,345.86 900.42,345.85"/><polygon points="903.9,365.52 903,367.06 901.22,367.07 902.1,368.62 901.22,370.17 903,370.18 903.9,371.72 904.8,370.18 906.58,370.17 905.7,368.62 906.58,367.07 904.8,367.06"/><polygon points="908.27,405.66 907.38,407.2 905.59,407.21 906.48,408.76 905.59,410.31 907.38,410.32 908.27,411.86 909.17,410.32 910.96,410.31 910.07,408.76 910.96,407.21 909.17,407.2"/><polygon points="930.15,404.19 929.25,405.73 927.47,405.74 928.35,407.29 927.47,408.84 929.25,408.85 930.15,410.39 931.05,408.85 932.83,408.84 931.95,407.29 932.83,405.74 931.05,405.73"/><polygon points="934.52,369.53 933.63,371.07 931.84,371.08 932.73,372.63 931.84,374.18 933.63,374.19 934.52,375.73 935.42,374.19 937.21,374.18 936.32,372.63 937.21,371.08 935.42,371.07"/><polygon points="938.9,350.1 938,351.64 936.22,351.65 937.1,353.2 936.22,354.75 938,354.75 938.9,356.3 939.8,354.75 941.58,354.75 940.7,353.2 941.58,351.65 939.8,351.64"/><polygon points="943.27,335.85 942.38,337.39 940.59,337.4 941.48,338.95 940.59,340.5 942.38,340.51 943.27,342.05 944.17,340.51 945.96,340.5 945.07,338.95 945.96,337.4 944.17,337.39"/><polygon points="947.65,322.8 946.75,324.34 944.97,324.35 945.85,325.9 944.97,327.45 946.75,327.45 947.65,329 948.55,327.45 950.33,327.45 949.45,325.9 950.33,324.35 948.55,324.34"/><polygon points="952.02,312.46 951.13,314.01 949.34,314.01 950.23,315.56 949.34,317.11 951.13,317.12 952.02,318.66 952.92,317.12 954.71,317.11 953.82,315.56 954.71,314.01 952.92,314.01"/><polygon points="956.4,302.42 955.5,303.97 953.72,303.97 954.6,305.52 953.72,307.07 955.5,307.08 956.4,308.62 957.3,307.08 959.08,307.07 958.2,305.52 959.08,303.97 957.3,303.97"/><polygon points="960.77,292.94 959.88,294.49 958.09,294.49 958.98,296.04 958.09,297.59 959.88,297.6 960.77,299.14 961.67,297.6 963.46,297.59 962.57,296.04 963.46,294.49 961.67,294.49"/><polygon points="965.15,286.29 964.25,287.83 962.47,287.84 963.35,289.39 962.47,290.94 964.25,290.95 965.15,292.49 966.05,290.95 967.83,290.94 966.95,289.39 967.83,287.84 966.05,287.83"/><polygon points="969.52,278.85 968.63,280.4 966.84,280.4 967.73,281.95 966.84,283.5 968.63,283.51 969.52,285.05 970.42,283.51 972.21,283.5 971.32,281.95 972.21,280.4 970.42,280.4"/><polygon points="973.9,272.74 973,274.28 971.22,274.29 972.1,275.84 971.22,277.39 973,277.4 973.9,278.94 974.8,277.4 976.58,277.39 975.7,275.84 976.58,274.29 974.8,274.28"/><polygon points="978.27,266.94 977.38,268.49 975.59,268.49 976.48,270.04 975.59,271.59 977.38,271.6 978.27,273.14 979.17,271.6 980.96,271.59 980.07,270.04 980.96,268.49 979.17,268.49"/><polygon points="982.65,262.5 981.75,264.04 979.97,264.05 980.85,265.6 979.97,267.15 981.75,267.16 982.65,268.7 983.55,267.16 985.33,267.15 984.45,265.6 985.33,264.05 983.55,264.04"/><polygon points="987.02,256.63 986.13,258.18 984.34,258.18 985.23,259.73 984.34,261.28 986.13,261.29 987.02,262.83 987.92,261.29 989.71,261.28 988.82,259.73 989.71,258.18 987.92,258.18"/><polygon points="991.4,252.57 990.5,254.12 988.72,254.12 989.6,255.67 988.72,257.22 990.5,257.23 991.4,258.77 992.3,257.23 994.08,257.22 993.2,255.67 994.08,254.12 992.3,254.12"/></g>
<g color="#1c1c1c">
<text transform="translate(86.39 27.90) scale(0.9873 1)" font-size="43" fill="#1c1c1c" stroke="currentColor" stroke-width="0.45">0</text>
<text transform="translate(54.53 129.70) scale(0.9243 1)" font-size="43" fill="#1c1c1c" stroke="currentColor" stroke-width="0.45">-10</text>
<text transform="translate(54.53 230.80) scale(0.9243 1)" font-size="43" fill="#1c1c1c" stroke="currentColor" stroke-width="0.45">-20</text>
<text transform="translate(54.53 332.20) scale(0.9243 1)" font-size="43" fill="#1c1c1c" stroke="currentColor" stroke-width="0.45">-30</text>
<text transform="translate(54.53 434.10) scale(0.9243 1)" font-size="43" fill="#1c1c1c" stroke="currentColor" stroke-width="0.45">-40</text>
<text transform="translate(108.19 467.40) scale(0.7247 1)" font-size="43" fill="#1c1c1c" stroke="currentColor" stroke-width="0.45">1</text>
<text transform="translate(238.52 467.40) scale(0.8773 1)" font-size="43" fill="#1c1c1c" stroke="currentColor" stroke-width="0.45">1.5</text>
<text transform="translate(397.07 467.40) scale(1.0413 1)" font-size="43" fill="#1c1c1c" stroke="currentColor" stroke-width="0.45">2</text>
<text transform="translate(528.34 467.40) scale(0.8960 1)" font-size="43" fill="#1c1c1c" stroke="currentColor" stroke-width="0.45">2.5</text>
<text transform="translate(689.38 467.40) scale(0.8988 1)" font-size="43" fill="#1c1c1c" stroke="currentColor" stroke-width="0.45">3</text>
<text transform="translate(820.59 467.40) scale(0.8951 1)" font-size="43" fill="#1c1c1c" stroke="currentColor" stroke-width="0.45">3.5</text>
<text transform="translate(981.13 467.40) scale(0.9482 1)" font-size="43" fill="#1c1c1c" stroke="currentColor" stroke-width="0.45">4</text>
<text transform="translate(416.80 514.70) scale(0.9313 1)" font-size="42" fill="#1c1c1c" stroke="currentColor" stroke-width="0.45">Frequency (GHz)</text>
</g>
<text transform="translate(27.3 297.1) rotate(-90) scale(1 0.92)" font-size="42" fill="#1c1c1c" color="#1c1c1c" stroke="currentColor" stroke-width="0.45"><tspan font-size="30.8" dx="1.1" dy="-6.7">|</tspan><tspan dx="1.1" dy="6.7">S</tspan><tspan font-size="33" dy="21">21</tspan><tspan font-size="30.8" dx="1.1" dy="-27.7">|</tspan><tspan dx="1.1" dy="6.7"> (dB)</tspan></text>
<text transform="translate(474.63 572.00) scale(0.9935 1)" font-size="34.5" fill="#000" color="#000" stroke="currentColor" stroke-width="0.45">(a)</text>
<rect x="156.2" y="204.8" width="185.4" height="205.4" fill="#fff" stroke="#3a3a3a" stroke-width="1"/>
<path d="M159 231.3H173.2" stroke="#0000ff" stroke-width="3.6"/>
<g fill="#0000ff" stroke="#0000ff" stroke-width="1.4"><polygon points="169.2,226.5 173.76,234.76 164.64,234.76"/></g>
<text transform="translate(180.74 247.90) scale(0.8986 1)" font-size="47" fill="#000" color="#000" stroke="currentColor" stroke-width="0.45">TE-0°</text>
<path d="M159 282.5H173.2" stroke="#7e2f8e" stroke-width="3.6"/>
<g fill="#7e2f8e" stroke="#7e2f8e" stroke-width="1.4"><circle cx="169.2" cy="282.5" r="2.7"/></g>
<text transform="translate(180.84 299.10) scale(0.8992 1)" font-size="47" fill="#000" color="#000" stroke="currentColor" stroke-width="0.45">TE-30°</text>
<path d="M159 333H173.2" stroke="#ff0000" stroke-width="3.6"/>
<g fill="#ff0000" stroke="#ff0000" stroke-width="1.4"><circle cx="169.2" cy="333" r="3.3"/></g>
<text transform="translate(180.84 349.60) scale(0.8992 1)" font-size="47" fill="#000" color="#000" stroke="currentColor" stroke-width="0.45">TE-45°</text>
<path d="M159 383H173.2" stroke="#d4707c" stroke-width="3.6"/>
<g fill="none" stroke="#d4707c" stroke-width="1.4"><path d="M166.6 383H171.8M169.2 380.4V385.6"/></g>
<text transform="translate(180.23 399.60) scale(0.9090 1)" font-size="47" fill="#000" color="#000" stroke="currentColor" stroke-width="0.45">TE-ECM</text>
<rect x="571.2" y="203.5" width="197" height="204.8" fill="#fff" stroke="#3a3a3a" stroke-width="1"/>
<path d="M574 229.9H588.2" stroke="#000000" stroke-width="3.6"/>
<g fill="#000" stroke="#000000" stroke-width="1.4"><polygon points="579.4,229.9 587.66,225.34 587.66,234.46"/></g>
<text transform="translate(595.84 246.50) scale(0.8983 1)" font-size="47" fill="#000" color="#000" stroke="currentColor" stroke-width="0.45">TM-0°</text>
<path d="M574 280.3H588.2" stroke="#008000" stroke-width="3.6"/>
<g fill="#008000" stroke="#008000" stroke-width="1.4"><polygon points="584.2,275.62 587.26,280.3 584.2,284.98 581.14,280.3"/></g>
<text transform="translate(595.84 296.90) scale(0.8982 1)" font-size="47" fill="#000" color="#000" stroke="currentColor" stroke-width="0.45">TM-30°</text>
<path d="M574 331.2H588.2" stroke="#14a2c2" stroke-width="3.6"/>
<g fill="#14a2c2" stroke="#14a2c2" stroke-width="1.4"><polygon points="589,331.2 580.74,326.64 580.74,335.76"/></g>
<text transform="translate(595.84 347.80) scale(0.8982 1)" font-size="47" fill="#000" color="#000" stroke="currentColor" stroke-width="0.45">TM-45°</text>
<path d="M574 382.6H588.2" stroke="#852436" stroke-width="3.6"/>
<g fill="#852436" stroke="#852436" stroke-width="1.4"><polygon points="584.2,378.7 583.07,380.64 580.82,380.65 581.94,382.6 580.82,384.55 583.07,384.56 584.2,386.5 585.33,384.56 587.58,384.55 586.46,382.6 587.58,380.65 585.33,380.64"/></g>
<text transform="translate(595.94 399.20) scale(0.9026 1)" font-size="47" fill="#000" color="#000" stroke="currentColor" stroke-width="0.45">TM-ECM</text>
</svg>
</body></html>
